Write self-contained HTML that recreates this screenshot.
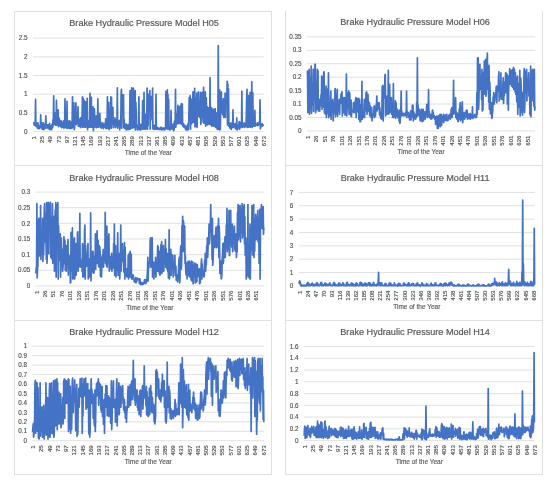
<!DOCTYPE html>
<html><head><meta charset="utf-8"><style>
html,body{margin:0;padding:0;background:#fff;width:550px;height:482px;overflow:hidden}
svg{display:block;font-family:'Liberation Sans', sans-serif;filter:blur(0.35px)}
</style></head><body>
<svg width="550" height="482" viewBox="0 0 550 482">
<rect width="550" height="482" fill="#fff"/>
<line x1="14" x2="272" y1="11.5" y2="11.5" stroke="#e0e0e0"/>
<line x1="14" x2="272" y1="165.5" y2="165.5" stroke="#e0e0e0"/>
<line x1="14.5" x2="14.5" y1="11" y2="166" stroke="#e0e0e0"/>
<line x1="271.5" x2="271.5" y1="11" y2="166" stroke="#e0e0e0"/>
<text x="144.1" y="26.1" font-size="9.1" text-anchor="middle" fill="#595959" stroke="#595959" stroke-width="0.2">Brake Hydraulic Pressure Model H05</text>
<line x1="33.0" x2="263.6" y1="131.60" y2="131.60" stroke="#d9d9d9" stroke-width="0.8"/>
<text x="27.5" y="133.80" font-size="6.3" text-anchor="end" fill="#4a4a4a" stroke="#4a4a4a" stroke-width="0.12">0</text>
<line x1="33.0" x2="263.6" y1="112.90" y2="112.90" stroke="#d9d9d9" stroke-width="0.8"/>
<text x="27.5" y="115.10" font-size="6.3" text-anchor="end" fill="#4a4a4a" stroke="#4a4a4a" stroke-width="0.12">0.5</text>
<line x1="33.0" x2="263.6" y1="94.20" y2="94.20" stroke="#d9d9d9" stroke-width="0.8"/>
<text x="27.5" y="96.40" font-size="6.3" text-anchor="end" fill="#4a4a4a" stroke="#4a4a4a" stroke-width="0.12">1</text>
<line x1="33.0" x2="263.6" y1="75.50" y2="75.50" stroke="#d9d9d9" stroke-width="0.8"/>
<text x="27.5" y="77.70" font-size="6.3" text-anchor="end" fill="#4a4a4a" stroke="#4a4a4a" stroke-width="0.12">1.5</text>
<line x1="33.0" x2="263.6" y1="56.80" y2="56.80" stroke="#d9d9d9" stroke-width="0.8"/>
<text x="27.5" y="59.00" font-size="6.3" text-anchor="end" fill="#4a4a4a" stroke="#4a4a4a" stroke-width="0.12">2</text>
<line x1="33.0" x2="263.6" y1="38.10" y2="38.10" stroke="#d9d9d9" stroke-width="0.8"/>
<text x="27.5" y="40.30" font-size="6.3" text-anchor="end" fill="#4a4a4a" stroke="#4a4a4a" stroke-width="0.12">2.5</text>
<text transform="translate(35.87,136.20) rotate(-90)" font-size="6.1" text-anchor="end" fill="#4a4a4a" stroke="#4a4a4a" stroke-width="0.12">1</text>
<text transform="translate(44.08,136.20) rotate(-90)" font-size="6.1" text-anchor="end" fill="#4a4a4a" stroke="#4a4a4a" stroke-width="0.12">25</text>
<text transform="translate(52.29,136.20) rotate(-90)" font-size="6.1" text-anchor="end" fill="#4a4a4a" stroke="#4a4a4a" stroke-width="0.12">49</text>
<text transform="translate(60.50,136.20) rotate(-90)" font-size="6.1" text-anchor="end" fill="#4a4a4a" stroke="#4a4a4a" stroke-width="0.12">73</text>
<text transform="translate(68.72,136.20) rotate(-90)" font-size="6.1" text-anchor="end" fill="#4a4a4a" stroke="#4a4a4a" stroke-width="0.12">97</text>
<text transform="translate(76.93,136.20) rotate(-90)" font-size="6.1" text-anchor="end" fill="#4a4a4a" stroke="#4a4a4a" stroke-width="0.12">121</text>
<text transform="translate(85.14,136.20) rotate(-90)" font-size="6.1" text-anchor="end" fill="#4a4a4a" stroke="#4a4a4a" stroke-width="0.12">145</text>
<text transform="translate(93.35,136.20) rotate(-90)" font-size="6.1" text-anchor="end" fill="#4a4a4a" stroke="#4a4a4a" stroke-width="0.12">169</text>
<text transform="translate(101.56,136.20) rotate(-90)" font-size="6.1" text-anchor="end" fill="#4a4a4a" stroke="#4a4a4a" stroke-width="0.12">193</text>
<text transform="translate(109.77,136.20) rotate(-90)" font-size="6.1" text-anchor="end" fill="#4a4a4a" stroke="#4a4a4a" stroke-width="0.12">217</text>
<text transform="translate(117.98,136.20) rotate(-90)" font-size="6.1" text-anchor="end" fill="#4a4a4a" stroke="#4a4a4a" stroke-width="0.12">241</text>
<text transform="translate(126.20,136.20) rotate(-90)" font-size="6.1" text-anchor="end" fill="#4a4a4a" stroke="#4a4a4a" stroke-width="0.12">265</text>
<text transform="translate(134.41,136.20) rotate(-90)" font-size="6.1" text-anchor="end" fill="#4a4a4a" stroke="#4a4a4a" stroke-width="0.12">289</text>
<text transform="translate(142.62,136.20) rotate(-90)" font-size="6.1" text-anchor="end" fill="#4a4a4a" stroke="#4a4a4a" stroke-width="0.12">313</text>
<text transform="translate(150.83,136.20) rotate(-90)" font-size="6.1" text-anchor="end" fill="#4a4a4a" stroke="#4a4a4a" stroke-width="0.12">337</text>
<text transform="translate(159.04,136.20) rotate(-90)" font-size="6.1" text-anchor="end" fill="#4a4a4a" stroke="#4a4a4a" stroke-width="0.12">361</text>
<text transform="translate(167.25,136.20) rotate(-90)" font-size="6.1" text-anchor="end" fill="#4a4a4a" stroke="#4a4a4a" stroke-width="0.12">385</text>
<text transform="translate(175.46,136.20) rotate(-90)" font-size="6.1" text-anchor="end" fill="#4a4a4a" stroke="#4a4a4a" stroke-width="0.12">409</text>
<text transform="translate(183.67,136.20) rotate(-90)" font-size="6.1" text-anchor="end" fill="#4a4a4a" stroke="#4a4a4a" stroke-width="0.12">433</text>
<text transform="translate(191.89,136.20) rotate(-90)" font-size="6.1" text-anchor="end" fill="#4a4a4a" stroke="#4a4a4a" stroke-width="0.12">457</text>
<text transform="translate(200.10,136.20) rotate(-90)" font-size="6.1" text-anchor="end" fill="#4a4a4a" stroke="#4a4a4a" stroke-width="0.12">481</text>
<text transform="translate(208.31,136.20) rotate(-90)" font-size="6.1" text-anchor="end" fill="#4a4a4a" stroke="#4a4a4a" stroke-width="0.12">505</text>
<text transform="translate(216.52,136.20) rotate(-90)" font-size="6.1" text-anchor="end" fill="#4a4a4a" stroke="#4a4a4a" stroke-width="0.12">529</text>
<text transform="translate(224.73,136.20) rotate(-90)" font-size="6.1" text-anchor="end" fill="#4a4a4a" stroke="#4a4a4a" stroke-width="0.12">553</text>
<text transform="translate(232.94,136.20) rotate(-90)" font-size="6.1" text-anchor="end" fill="#4a4a4a" stroke="#4a4a4a" stroke-width="0.12">577</text>
<text transform="translate(241.15,136.20) rotate(-90)" font-size="6.1" text-anchor="end" fill="#4a4a4a" stroke="#4a4a4a" stroke-width="0.12">601</text>
<text transform="translate(249.36,136.20) rotate(-90)" font-size="6.1" text-anchor="end" fill="#4a4a4a" stroke="#4a4a4a" stroke-width="0.12">625</text>
<text transform="translate(257.58,136.20) rotate(-90)" font-size="6.1" text-anchor="end" fill="#4a4a4a" stroke="#4a4a4a" stroke-width="0.12">649</text>
<text transform="translate(265.79,136.20) rotate(-90)" font-size="6.1" text-anchor="end" fill="#4a4a4a" stroke="#4a4a4a" stroke-width="0.12">673</text>
<text x="148.30" y="155.0" font-size="6.5" text-anchor="middle" fill="#595959" stroke="#595959" stroke-width="0.15">Time of the Year</text>
<polyline fill="none" stroke="#4472c4" stroke-width="1.7" stroke-linejoin="round" points="33.17,123.16 33.51,123.20 33.86,122.85 34.20,125.15 34.54,124.61 34.88,124.56 35.22,122.84 35.57,99.45 35.91,126.15 36.25,123.15 36.59,126.63 36.93,124.08 37.28,123.39 37.62,128.49 37.96,122.85 38.30,128.65 38.65,127.70 38.99,126.14 39.33,127.27 39.67,128.64 40.01,125.78 40.36,124.93 40.70,114.85 41.04,127.15 41.38,126.45 41.72,123.22 42.07,128.98 42.41,129.44 42.75,123.02 43.09,125.97 43.44,122.85 43.78,129.65 44.12,129.24 44.46,127.06 44.80,124.32 45.15,126.78 45.49,128.06 45.83,115.85 46.17,128.15 46.51,127.47 46.86,126.11 47.20,126.53 47.54,124.82 47.88,128.20 48.23,124.73 48.57,126.75 48.91,125.18 49.25,129.51 49.59,123.35 49.94,129.65 50.28,128.63 50.62,126.14 50.96,127.40 51.30,128.48 51.65,129.60 51.99,124.23 52.33,124.11 52.67,127.55 53.01,119.46 53.36,119.53 53.70,95.85 54.04,124.65 54.38,117.91 54.73,121.61 55.07,122.60 55.41,112.85 55.75,125.15 56.09,120.99 56.44,100.35 56.78,125.15 57.12,121.55 57.46,119.72 57.80,111.82 58.15,109.85 58.49,126.65 58.83,124.07 59.17,118.16 59.52,119.75 59.86,121.08 60.20,126.00 60.54,126.27 60.88,124.83 61.23,120.85 61.57,127.65 61.91,122.03 62.25,123.92 62.59,125.63 62.94,123.06 63.28,127.47 63.62,120.85 63.96,128.15 64.31,127.35 64.65,123.55 64.99,98.85 65.33,127.15 65.67,126.15 66.02,117.85 66.36,128.15 66.70,124.66 67.04,101.35 67.38,128.15 67.73,125.52 68.07,124.83 68.41,121.08 68.75,128.31 69.10,126.34 69.44,120.98 69.78,120.85 70.12,128.65 70.46,125.48 70.81,125.58 71.15,122.18 71.49,124.73 71.83,128.51 72.17,121.31 72.52,96.85 72.86,127.15 73.20,126.03 73.54,123.89 73.89,102.85 74.23,129.65 74.57,128.09 74.91,113.45 75.25,123.61 75.60,112.05 75.94,102.85 76.28,124.65 76.62,112.86 76.96,118.78 77.31,123.51 77.65,121.53 77.99,106.85 78.33,126.15 78.68,126.12 79.02,125.53 79.36,119.61 79.70,126.53 80.04,120.39 80.39,117.85 80.73,127.65 81.07,125.78 81.41,122.57 81.75,123.35 82.10,114.24 82.44,96.85 82.78,127.15 83.12,98.55 83.47,121.32 83.81,123.33 84.15,100.35 84.49,127.15 84.83,125.81 85.18,123.96 85.52,101.85 85.86,127.15 86.20,124.08 86.54,126.86 86.89,126.94 87.23,98.35 87.57,129.65 87.91,125.44 88.26,126.17 88.60,120.85 88.94,127.15 89.28,126.19 89.62,123.28 89.97,93.35 90.31,127.15 90.65,126.91 90.99,125.44 91.33,97.35 91.68,127.15 92.02,125.83 92.36,127.17 92.70,125.53 93.04,106.85 93.39,130.65 93.73,125.90 94.07,123.50 94.41,108.85 94.76,127.15 95.10,123.41 95.44,118.86 95.78,117.72 96.12,115.85 96.47,127.65 96.81,123.79 97.15,126.56 97.49,127.03 97.83,98.85 98.18,127.15 98.52,127.05 98.86,121.80 99.20,116.79 99.55,125.64 99.89,113.35 100.23,127.15 100.57,121.97 100.91,122.40 101.26,128.25 101.60,123.78 101.94,125.59 102.28,123.83 102.62,127.07 102.97,122.85 103.31,128.65 103.65,126.98 103.99,126.01 104.34,124.72 104.68,125.90 105.02,122.99 105.36,127.70 105.70,118.85 106.05,128.65 106.39,127.62 106.73,126.68 107.07,127.30 107.41,96.85 107.76,128.15 108.10,121.11 108.44,126.17 108.78,102.35 109.13,129.65 109.47,128.22 109.81,109.19 110.15,122.42 110.49,127.50 110.84,96.85 111.18,128.15 111.52,97.41 111.86,123.57 112.20,121.94 112.55,124.40 112.89,107.35 113.23,127.65 113.57,121.65 113.92,121.00 114.26,123.19 114.60,125.49 114.94,117.85 115.28,127.65 115.63,127.41 115.97,119.83 116.31,122.91 116.65,125.90 116.99,121.62 117.34,87.85 117.68,128.15 118.02,124.17 118.36,124.42 118.71,123.43 119.05,123.89 119.39,120.35 119.73,129.95 120.07,120.91 120.42,127.08 120.76,126.90 121.10,94.18 121.44,89.35 121.78,128.15 122.13,101.24 122.47,94.84 122.81,105.03 123.15,96.84 123.50,94.85 123.84,127.65 124.18,119.25 124.52,126.56 124.86,128.49 125.21,124.20 125.55,124.85 125.89,124.15 126.23,129.95 126.57,124.37 126.92,125.20 127.26,129.73 127.60,127.59 127.94,128.83 128.29,124.85 128.63,129.65 128.97,129.02 129.31,124.98 129.65,122.36 130.00,90.55 130.34,129.15 130.68,124.24 131.02,103.08 131.36,114.17 131.71,87.85 132.05,128.15 132.39,96.14 132.73,114.75 133.07,110.51 133.42,88.05 133.76,127.65 134.10,95.74 134.44,94.66 134.79,103.71 135.13,90.55 135.47,129.95 135.81,102.22 136.15,110.26 136.50,126.91 136.84,126.03 137.18,125.45 137.52,129.95 137.86,129.50 138.21,129.00 138.55,127.53 138.89,96.85 139.23,129.15 139.58,126.50 139.92,129.88 140.26,125.57 140.60,124.35 140.94,129.95 141.29,126.25 141.63,128.76 141.97,124.33 142.31,123.16 142.65,100.55 143.00,129.15 143.34,122.48 143.68,126.00 144.02,92.45 144.37,129.15 144.71,121.05 145.05,126.59 145.39,114.25 145.73,129.15 146.08,127.35 146.42,128.55 146.76,119.51 147.10,88.05 147.44,129.15 147.79,117.87 148.13,125.88 148.47,97.10 148.81,93.99 149.16,98.77 149.50,99.85 149.84,90.55 150.18,129.15 150.52,113.72 150.87,96.68 151.21,104.76 151.55,116.01 151.89,101.79 152.23,119.85 152.58,88.05 152.92,128.65 153.26,126.99 153.60,129.17 153.95,125.89 154.29,125.45 154.63,129.35 154.97,125.98 155.31,127.20 155.66,128.24 156.00,94.25 156.34,129.15 156.68,128.81 157.02,127.45 157.37,127.61 157.71,129.38 158.05,127.71 158.39,128.17 158.74,128.29 159.08,129.36 159.42,128.93 159.76,128.79 160.10,129.35 160.45,127.47 160.79,129.23 161.13,127.25 161.47,129.95 161.81,129.66 162.16,128.43 162.50,129.75 162.84,128.71 163.18,128.00 163.53,127.83 163.87,129.48 164.21,129.92 164.55,129.06 164.89,129.70 165.24,127.56 165.58,127.56 165.92,91.42 166.26,119.73 166.60,128.68 166.95,112.60 167.29,89.85 167.63,129.15 167.97,94.39 168.31,122.57 168.66,99.34 169.00,129.11 169.34,129.61 169.68,126.65 170.03,129.95 170.37,129.66 170.71,127.38 171.05,110.45 171.39,129.15 171.74,124.61 172.08,124.73 172.42,126.03 172.76,128.93 173.10,124.15 173.45,130.55 173.79,127.20 174.13,129.91 174.47,120.99 174.82,126.78 175.16,127.05 175.50,89.35 175.84,127.15 176.18,117.86 176.53,124.36 176.87,121.51 177.21,113.68 177.55,118.02 177.89,105.45 178.24,123.75 178.58,106.60 178.92,122.28 179.26,107.26 179.61,106.75 179.95,123.75 180.29,123.24 180.63,105.96 180.97,119.90 181.32,103.65 181.66,124.35 182.00,116.44 182.34,104.06 182.68,125.66 183.03,126.42 183.37,125.27 183.71,124.15 184.05,127.45 184.40,125.00 184.74,125.66 185.08,127.25 185.42,128.99 185.76,126.05 186.11,129.95 186.45,126.37 186.79,128.85 187.13,129.85 187.47,127.35 187.82,124.15 188.16,129.95 188.50,127.93 188.84,117.17 189.19,97.54 189.53,108.67 189.87,118.84 190.21,95.55 190.55,129.15 190.90,106.55 191.24,118.51 191.58,124.01 191.92,99.13 192.26,101.12 192.61,112.22 192.95,91.85 193.29,122.45 193.63,108.50 193.98,110.64 194.32,103.91 194.66,88.35 195.00,126.85 195.34,97.79 195.69,126.07 196.03,101.44 196.37,124.96 196.71,93.05 197.05,127.45 197.40,112.01 197.74,93.57 198.08,114.32 198.42,91.85 198.77,116.15 199.11,107.29 199.45,109.08 199.79,117.72 200.13,108.61 200.48,92.45 200.82,124.35 201.16,119.97 201.50,96.30 201.84,104.91 202.19,92.45 202.53,117.45 202.87,112.32 203.21,122.46 203.56,87.35 203.90,123.15 204.24,114.65 204.58,97.79 204.92,99.53 205.27,91.85 205.61,126.15 205.95,125.63 206.29,97.97 206.63,112.57 206.98,123.00 207.32,106.75 207.66,124.95 208.00,116.11 208.34,120.56 208.69,107.85 209.03,124.35 209.37,123.14 209.71,113.76 210.06,77.65 210.40,124.15 210.74,122.50 211.08,121.98 211.42,126.00 211.77,107.85 212.11,126.15 212.45,124.70 212.79,124.51 213.13,112.56 213.48,109.25 213.82,126.15 214.16,124.58 214.50,124.46 214.85,113.42 215.19,108.65 215.53,127.45 215.87,121.61 216.21,124.10 216.56,127.57 216.90,112.85 217.24,129.35 217.58,125.85 217.92,114.21 218.27,45.55 218.61,129.15 218.95,115.19 219.29,127.42 219.64,89.85 219.98,129.95 220.32,129.30 220.66,111.79 221.00,95.82 221.35,91.85 221.69,112.55 222.03,103.22 222.37,101.34 222.71,114.65 223.06,108.93 223.40,98.65 223.74,117.45 224.08,106.09 224.43,101.31 224.77,111.16 225.11,93.05 225.45,117.45 225.79,93.65 226.14,101.68 226.48,99.46 226.82,100.01 227.16,81.25 227.50,124.95 227.85,83.97 228.19,122.82 228.53,88.65 228.87,126.15 229.22,124.85 229.56,123.66 229.90,127.67 230.24,128.24 230.58,126.76 230.93,122.85 231.27,129.35 231.61,125.46 231.95,125.37 232.29,124.37 232.64,127.42 232.98,109.85 233.32,127.45 233.66,125.12 234.01,126.10 234.35,126.86 234.69,126.41 235.03,123.55 235.37,128.65 235.72,127.05 236.06,124.92 236.40,129.23 236.74,117.95 237.08,129.95 237.43,128.46 237.77,125.34 238.11,127.62 238.45,124.82 238.80,125.03 239.14,121.65 239.48,129.35 239.82,128.63 240.16,122.28 240.51,123.77 240.85,124.37 241.19,127.01 241.53,126.80 241.87,91.15 242.22,127.45 242.56,122.81 242.90,126.89 243.24,126.72 243.59,126.37 243.93,123.39 244.27,122.85 244.61,127.45 244.95,124.28 245.30,124.26 245.64,126.76 245.98,125.74 246.32,116.07 246.66,99.39 247.01,89.35 247.35,127.45 247.69,112.00 248.03,120.39 248.37,95.55 248.72,127.15 249.06,120.07 249.40,118.82 249.74,122.19 250.09,92.45 250.43,127.15 250.77,125.62 251.11,93.28 251.45,117.53 251.80,81.85 252.14,127.45 252.48,107.82 252.82,92.90 253.16,126.12 253.51,124.15 253.85,126.15 254.19,125.81 254.53,123.34 254.88,110.45 255.22,126.15 255.56,124.78 255.90,124.24 256.24,125.11 256.59,124.82 256.93,125.44 257.27,122.85 257.61,125.55 257.95,125.50 258.30,123.37 258.64,124.55 258.98,124.83 259.32,122.08 259.67,121.74 260.01,99.85 260.35,128.65 260.69,127.65 261.03,124.13 261.38,125.74 261.72,124.43 262.06,123.55 262.40,126.15 262.74,125.37 263.09,124.99 263.43,125.95"/>
<line x1="285" x2="543" y1="165.5" y2="165.5" stroke="#e0e0e0"/>
<line x1="285.5" x2="285.5" y1="11" y2="166" stroke="#e0e0e0"/>
<line x1="542.5" x2="542.5" y1="11" y2="166" stroke="#e0e0e0"/>
<text x="415.1" y="25.1" font-size="9.1" text-anchor="middle" fill="#595959" stroke="#595959" stroke-width="0.2">Brake Hydraulic Pressure Model H06</text>
<line x1="307.0" x2="535.2" y1="130.90" y2="130.90" stroke="#d9d9d9" stroke-width="0.8"/>
<text x="301.5" y="133.10" font-size="6.3" text-anchor="end" fill="#4a4a4a" stroke="#4a4a4a" stroke-width="0.12">0</text>
<line x1="307.0" x2="535.2" y1="117.46" y2="117.46" stroke="#d9d9d9" stroke-width="0.8"/>
<text x="301.5" y="119.66" font-size="6.3" text-anchor="end" fill="#4a4a4a" stroke="#4a4a4a" stroke-width="0.12">0.05</text>
<line x1="307.0" x2="535.2" y1="104.03" y2="104.03" stroke="#d9d9d9" stroke-width="0.8"/>
<text x="301.5" y="106.23" font-size="6.3" text-anchor="end" fill="#4a4a4a" stroke="#4a4a4a" stroke-width="0.12">0.1</text>
<line x1="307.0" x2="535.2" y1="90.59" y2="90.59" stroke="#d9d9d9" stroke-width="0.8"/>
<text x="301.5" y="92.79" font-size="6.3" text-anchor="end" fill="#4a4a4a" stroke="#4a4a4a" stroke-width="0.12">0.15</text>
<line x1="307.0" x2="535.2" y1="77.16" y2="77.16" stroke="#d9d9d9" stroke-width="0.8"/>
<text x="301.5" y="79.36" font-size="6.3" text-anchor="end" fill="#4a4a4a" stroke="#4a4a4a" stroke-width="0.12">0.2</text>
<line x1="307.0" x2="535.2" y1="63.72" y2="63.72" stroke="#d9d9d9" stroke-width="0.8"/>
<text x="301.5" y="65.92" font-size="6.3" text-anchor="end" fill="#4a4a4a" stroke="#4a4a4a" stroke-width="0.12">0.25</text>
<line x1="307.0" x2="535.2" y1="50.29" y2="50.29" stroke="#d9d9d9" stroke-width="0.8"/>
<text x="301.5" y="52.49" font-size="6.3" text-anchor="end" fill="#4a4a4a" stroke="#4a4a4a" stroke-width="0.12">0.3</text>
<line x1="307.0" x2="535.2" y1="36.85" y2="36.85" stroke="#d9d9d9" stroke-width="0.8"/>
<text x="301.5" y="39.05" font-size="6.3" text-anchor="end" fill="#4a4a4a" stroke="#4a4a4a" stroke-width="0.12">0.35</text>
<text transform="translate(309.87,135.50) rotate(-90)" font-size="6.1" text-anchor="end" fill="#4a4a4a" stroke="#4a4a4a" stroke-width="0.12">1</text>
<text transform="translate(318.32,135.50) rotate(-90)" font-size="6.1" text-anchor="end" fill="#4a4a4a" stroke="#4a4a4a" stroke-width="0.12">26</text>
<text transform="translate(326.77,135.50) rotate(-90)" font-size="6.1" text-anchor="end" fill="#4a4a4a" stroke="#4a4a4a" stroke-width="0.12">51</text>
<text transform="translate(335.22,135.50) rotate(-90)" font-size="6.1" text-anchor="end" fill="#4a4a4a" stroke="#4a4a4a" stroke-width="0.12">76</text>
<text transform="translate(343.68,135.50) rotate(-90)" font-size="6.1" text-anchor="end" fill="#4a4a4a" stroke="#4a4a4a" stroke-width="0.12">101</text>
<text transform="translate(352.13,135.50) rotate(-90)" font-size="6.1" text-anchor="end" fill="#4a4a4a" stroke="#4a4a4a" stroke-width="0.12">126</text>
<text transform="translate(360.58,135.50) rotate(-90)" font-size="6.1" text-anchor="end" fill="#4a4a4a" stroke="#4a4a4a" stroke-width="0.12">151</text>
<text transform="translate(369.03,135.50) rotate(-90)" font-size="6.1" text-anchor="end" fill="#4a4a4a" stroke="#4a4a4a" stroke-width="0.12">176</text>
<text transform="translate(377.48,135.50) rotate(-90)" font-size="6.1" text-anchor="end" fill="#4a4a4a" stroke="#4a4a4a" stroke-width="0.12">201</text>
<text transform="translate(385.94,135.50) rotate(-90)" font-size="6.1" text-anchor="end" fill="#4a4a4a" stroke="#4a4a4a" stroke-width="0.12">226</text>
<text transform="translate(394.39,135.50) rotate(-90)" font-size="6.1" text-anchor="end" fill="#4a4a4a" stroke="#4a4a4a" stroke-width="0.12">251</text>
<text transform="translate(402.84,135.50) rotate(-90)" font-size="6.1" text-anchor="end" fill="#4a4a4a" stroke="#4a4a4a" stroke-width="0.12">276</text>
<text transform="translate(411.29,135.50) rotate(-90)" font-size="6.1" text-anchor="end" fill="#4a4a4a" stroke="#4a4a4a" stroke-width="0.12">301</text>
<text transform="translate(419.74,135.50) rotate(-90)" font-size="6.1" text-anchor="end" fill="#4a4a4a" stroke="#4a4a4a" stroke-width="0.12">326</text>
<text transform="translate(428.19,135.50) rotate(-90)" font-size="6.1" text-anchor="end" fill="#4a4a4a" stroke="#4a4a4a" stroke-width="0.12">351</text>
<text transform="translate(436.65,135.50) rotate(-90)" font-size="6.1" text-anchor="end" fill="#4a4a4a" stroke="#4a4a4a" stroke-width="0.12">376</text>
<text transform="translate(445.10,135.50) rotate(-90)" font-size="6.1" text-anchor="end" fill="#4a4a4a" stroke="#4a4a4a" stroke-width="0.12">401</text>
<text transform="translate(453.55,135.50) rotate(-90)" font-size="6.1" text-anchor="end" fill="#4a4a4a" stroke="#4a4a4a" stroke-width="0.12">426</text>
<text transform="translate(462.00,135.50) rotate(-90)" font-size="6.1" text-anchor="end" fill="#4a4a4a" stroke="#4a4a4a" stroke-width="0.12">451</text>
<text transform="translate(470.45,135.50) rotate(-90)" font-size="6.1" text-anchor="end" fill="#4a4a4a" stroke="#4a4a4a" stroke-width="0.12">476</text>
<text transform="translate(478.91,135.50) rotate(-90)" font-size="6.1" text-anchor="end" fill="#4a4a4a" stroke="#4a4a4a" stroke-width="0.12">501</text>
<text transform="translate(487.36,135.50) rotate(-90)" font-size="6.1" text-anchor="end" fill="#4a4a4a" stroke="#4a4a4a" stroke-width="0.12">526</text>
<text transform="translate(495.81,135.50) rotate(-90)" font-size="6.1" text-anchor="end" fill="#4a4a4a" stroke="#4a4a4a" stroke-width="0.12">551</text>
<text transform="translate(504.26,135.50) rotate(-90)" font-size="6.1" text-anchor="end" fill="#4a4a4a" stroke="#4a4a4a" stroke-width="0.12">576</text>
<text transform="translate(512.71,135.50) rotate(-90)" font-size="6.1" text-anchor="end" fill="#4a4a4a" stroke="#4a4a4a" stroke-width="0.12">601</text>
<text transform="translate(521.17,135.50) rotate(-90)" font-size="6.1" text-anchor="end" fill="#4a4a4a" stroke="#4a4a4a" stroke-width="0.12">626</text>
<text transform="translate(529.62,135.50) rotate(-90)" font-size="6.1" text-anchor="end" fill="#4a4a4a" stroke="#4a4a4a" stroke-width="0.12">651</text>
<text x="421.10" y="154.0" font-size="6.5" text-anchor="middle" fill="#595959" stroke="#595959" stroke-width="0.15">Time of the Year</text>
<polyline fill="none" stroke="#4472c4" stroke-width="1.7" stroke-linejoin="round" points="307.17,72.97 307.51,71.15 307.85,112.55 308.18,110.39 308.52,71.98 308.86,110.36 309.20,69.45 309.54,114.15 309.87,106.80 310.21,78.61 310.55,97.76 310.89,98.81 311.23,66.15 311.56,113.35 311.90,94.75 312.24,84.71 312.58,93.69 312.92,104.55 313.25,69.45 313.59,111.15 313.93,87.41 314.27,93.56 314.61,99.22 314.94,64.40 315.28,64.15 315.62,112.65 315.96,110.20 316.30,86.26 316.64,87.11 316.97,98.50 317.31,69.45 317.65,109.15 317.99,70.88 318.33,110.83 318.66,104.84 319.00,107.39 319.34,99.35 319.68,111.15 320.02,103.83 320.35,100.63 320.69,105.55 321.03,94.60 321.37,101.33 321.71,76.05 322.04,109.15 322.38,76.84 322.72,98.39 323.06,107.09 323.40,92.72 323.73,72.00 324.07,71.95 324.41,112.65 324.75,99.40 325.09,105.25 325.43,114.20 325.76,92.45 326.10,86.05 326.44,117.55 326.78,109.18 327.12,88.99 327.45,109.01 327.79,108.70 328.13,113.59 328.47,72.75 328.81,117.55 329.14,106.56 329.48,106.78 329.82,115.74 330.16,112.24 330.50,99.05 330.83,91.05 331.17,119.15 331.51,104.02 331.85,104.25 332.19,109.89 332.52,100.97 332.86,99.35 333.20,120.85 333.54,110.12 333.88,102.97 334.21,106.77 334.55,113.45 334.89,91.38 335.23,88.55 335.57,116.75 335.91,101.55 336.24,100.74 336.58,114.01 336.92,96.75 337.26,89.35 337.60,116.15 337.93,102.39 338.27,110.87 338.61,104.16 338.95,103.80 339.29,99.35 339.62,114.15 339.96,101.81 340.30,100.71 340.64,103.32 340.98,93.98 341.31,99.28 341.65,92.87 341.99,91.85 342.33,115.85 342.67,108.80 343.00,103.75 343.34,97.65 343.68,112.55 344.02,106.66 344.36,103.72 344.70,97.65 345.03,115.05 345.37,107.88 345.71,112.59 346.05,113.68 346.39,74.05 346.72,115.85 347.06,110.50 347.40,106.09 347.74,99.75 348.08,92.79 348.41,95.20 348.75,91.05 349.09,114.15 349.43,107.82 349.77,93.18 350.10,113.57 350.44,112.51 350.78,115.77 351.12,100.15 351.46,116.75 351.79,110.99 352.13,112.22 352.47,110.31 352.81,111.32 353.15,111.50 353.49,102.65 353.82,112.55 354.16,107.82 354.50,104.10 354.84,112.68 355.18,101.84 355.51,100.03 355.85,97.65 356.19,117.55 356.53,106.07 356.87,103.28 357.20,98.28 357.54,111.65 357.88,102.01 358.22,105.22 358.56,98.45 358.89,119.15 359.23,100.17 359.57,99.39 359.91,121.54 360.25,104.35 360.58,121.65 360.92,118.50 361.26,118.95 361.60,116.73 361.94,81.35 362.28,119.15 362.61,111.46 362.95,117.67 363.29,114.21 363.63,111.94 363.97,110.53 364.30,99.35 364.64,117.55 364.98,100.14 365.32,99.53 365.66,110.77 365.99,92.66 366.33,106.47 366.67,91.85 367.01,114.15 367.35,105.57 367.68,97.59 368.02,94.37 368.36,111.40 368.70,103.06 369.04,109.93 369.37,102.65 369.71,115.85 370.05,112.76 370.39,106.08 370.73,108.94 371.07,117.62 371.40,109.47 371.74,107.65 372.08,120.85 372.42,116.96 372.76,114.61 373.09,114.93 373.43,113.62 373.77,113.88 374.11,105.95 374.45,117.55 374.78,107.13 375.12,112.36 375.46,116.10 375.80,109.05 376.14,104.77 376.47,105.10 376.81,96.05 377.15,110.95 377.49,103.72 377.83,108.81 378.16,103.15 378.50,105.86 378.84,107.53 379.18,102.65 379.52,115.05 379.85,107.85 380.19,114.83 380.53,116.28 380.87,118.24 381.21,112.65 381.55,119.15 381.88,113.02 382.22,86.44 382.56,115.11 382.90,85.25 383.24,120.85 383.57,88.66 383.91,98.24 384.25,86.05 384.59,95.49 384.93,75.13 385.26,74.45 385.60,115.85 385.94,113.12 386.28,109.65 386.62,96.05 386.95,114.15 387.29,113.10 387.63,109.27 387.97,111.40 388.31,70.25 388.64,114.15 388.98,107.66 389.32,108.15 389.66,84.35 390.00,112.55 390.34,106.91 390.67,109.36 391.01,109.92 391.35,97.65 391.69,114.15 392.03,104.63 392.36,105.47 392.70,117.51 393.04,117.25 393.38,83.55 393.72,117.55 394.05,114.08 394.39,116.61 394.73,113.54 395.07,114.16 395.41,100.95 395.74,118.35 396.08,102.69 396.42,116.04 396.76,111.17 397.10,115.75 397.43,109.25 397.77,117.55 398.11,113.57 398.45,113.70 398.79,111.82 399.13,121.23 399.46,110.15 399.80,123.35 400.14,122.65 400.48,110.23 400.82,109.88 401.15,91.05 401.49,115.85 401.83,111.33 402.17,114.49 402.51,114.62 402.84,114.84 403.18,115.73 403.52,113.45 403.86,115.85 404.20,114.45 404.53,114.59 404.87,113.88 405.21,115.62 405.55,112.23 405.89,115.12 406.22,114.11 406.56,91.05 406.90,117.55 407.24,111.45 407.58,113.51 407.92,114.07 408.25,112.73 408.59,112.65 408.93,117.55 409.27,114.47 409.61,119.88 409.94,117.19 410.28,119.13 410.62,110.95 410.96,120.05 411.30,113.73 411.63,112.40 411.97,117.07 412.31,105.40 412.65,113.76 412.99,105.15 413.32,120.85 413.66,111.60 414.00,113.22 414.34,118.13 414.68,117.13 415.01,118.79 415.35,114.25 415.69,119.15 416.03,115.64 416.37,117.32 416.71,102.29 417.04,114.74 417.38,57.85 417.72,115.85 418.06,104.90 418.40,113.06 418.73,114.22 419.07,113.79 419.41,115.48 419.75,109.25 420.09,120.85 420.42,117.99 420.76,116.27 421.10,110.76 421.44,120.14 421.78,109.25 422.11,121.65 422.45,110.25 422.79,111.11 423.13,109.25 423.47,120.85 423.80,114.41 424.14,118.85 424.48,114.02 424.82,111.75 425.16,119.15 425.49,111.93 425.83,114.27 426.17,114.61 426.51,108.00 426.85,104.35 427.19,117.55 427.52,110.92 427.86,114.33 428.20,113.65 428.54,89.65 428.88,116.75 429.21,111.34 429.55,117.83 429.89,116.83 430.23,116.81 430.57,114.25 430.90,119.15 431.24,118.93 431.58,115.21 431.92,118.82 432.26,111.36 432.59,110.15 432.93,117.55 433.27,112.35 433.61,116.61 433.95,117.54 434.28,115.85 434.62,119.15 434.96,116.71 435.30,117.74 435.64,124.34 435.98,116.87 436.31,123.17 436.65,118.13 436.99,115.85 437.33,128.35 437.67,117.05 438.00,123.90 438.34,128.32 438.68,116.07 439.02,121.48 439.36,115.08 439.69,125.58 440.03,114.25 440.37,126.65 440.71,125.35 441.05,114.39 441.38,122.29 441.72,125.06 442.06,116.71 442.40,120.63 442.74,119.82 443.07,116.90 443.41,114.25 443.75,122.55 444.09,117.89 444.43,118.20 444.77,115.18 445.10,118.06 445.44,120.52 445.78,115.86 446.12,114.88 446.46,117.44 446.79,114.25 447.13,120.85 447.47,118.97 447.81,119.15 448.15,120.16 448.48,117.81 448.82,115.70 449.16,116.23 449.50,114.27 449.84,114.25 450.17,119.15 450.51,118.09 450.85,116.34 451.19,109.08 451.53,113.18 451.86,107.65 452.20,117.55 452.54,107.94 452.88,109.11 453.22,106.68 453.56,80.25 453.89,114.15 454.23,112.62 454.57,109.83 454.91,107.25 455.25,109.49 455.58,97.65 455.92,117.55 456.26,111.79 456.60,113.97 456.94,119.23 457.27,117.78 457.61,113.45 457.95,121.65 458.29,121.34 458.63,118.94 458.96,119.56 459.30,108.87 459.64,116.51 459.98,105.34 460.32,102.65 460.65,120.85 460.99,106.74 461.33,109.54 461.67,109.98 462.01,119.10 462.35,101.85 462.68,122.55 463.02,119.00 463.36,115.02 463.70,112.73 464.04,116.13 464.37,112.65 464.71,119.15 465.05,117.28 465.39,113.41 465.73,116.88 466.06,111.81 466.40,110.30 466.74,110.66 467.08,110.15 467.42,119.15 467.75,116.72 468.09,113.69 468.43,118.30 468.77,118.49 469.11,118.58 469.44,118.10 469.78,114.78 470.12,113.45 470.46,119.15 470.80,114.59 471.13,114.91 471.47,116.79 471.81,117.80 472.15,116.04 472.49,106.85 472.83,118.35 473.16,117.95 473.50,116.27 473.84,116.12 474.18,115.09 474.52,115.68 474.85,114.25 475.19,117.55 475.53,115.79 475.87,116.87 476.21,117.44 476.54,117.31 476.88,92.65 477.22,114.15 477.56,57.91 477.90,84.20 478.23,57.75 478.57,109.15 478.91,100.78 479.25,80.64 479.59,70.36 479.92,64.25 480.26,89.15 480.60,76.33 480.94,82.81 481.28,83.21 481.62,99.82 481.95,69.25 482.29,110.95 482.63,90.22 482.97,109.80 483.31,72.58 483.64,86.03 483.98,88.42 484.32,61.15 484.66,94.15 485.00,85.91 485.33,88.91 485.67,59.25 486.01,96.15 486.35,92.42 486.69,77.42 487.02,60.72 487.36,53.05 487.70,89.15 488.04,84.24 488.38,71.34 488.71,102.05 489.05,65.45 489.39,109.15 489.73,82.13 490.07,88.84 490.41,113.72 490.74,102.81 491.08,109.60 491.42,102.65 491.76,118.35 492.10,117.83 492.43,112.60 492.77,111.10 493.11,97.05 493.45,99.06 493.79,92.65 494.12,104.15 494.46,102.66 494.80,100.60 495.14,96.82 495.48,94.62 495.81,94.99 496.15,87.47 496.49,86.05 496.83,102.65 497.17,87.32 497.50,88.97 497.84,91.10 498.18,90.69 498.52,77.87 498.86,71.95 499.20,100.95 499.53,90.90 499.87,89.55 500.21,94.94 500.55,96.70 500.89,72.75 501.22,99.15 501.56,89.47 501.90,88.82 502.24,89.82 502.58,99.62 502.91,82.94 503.25,77.75 503.59,103.45 503.93,93.91 504.27,95.53 504.60,88.02 504.94,81.86 505.28,88.03 505.62,72.75 505.96,92.65 506.29,78.27 506.63,73.59 506.97,74.98 507.31,103.88 507.65,97.16 507.99,76.05 508.32,110.05 508.66,88.45 509.00,83.10 509.34,84.05 509.68,68.65 510.01,84.35 510.35,82.55 510.69,72.90 511.03,79.12 511.37,70.25 511.70,86.15 512.04,74.89 512.38,69.74 512.72,87.45 513.06,79.56 513.39,67.45 513.73,89.15 514.07,81.33 514.41,68.98 514.75,79.73 515.08,92.02 515.42,72.75 515.76,94.15 516.10,77.84 516.44,90.09 516.77,101.90 517.11,99.91 517.45,76.05 517.79,114.15 518.13,89.62 518.47,83.86 518.80,105.22 519.14,107.12 519.48,86.99 519.82,70.25 520.16,115.85 520.49,88.50 520.83,78.30 521.17,85.86 521.51,112.42 521.85,94.32 522.18,92.65 522.52,115.15 522.86,103.96 523.20,99.63 523.54,110.30 523.87,79.95 524.21,68.65 524.55,112.55 524.89,101.62 525.23,74.39 525.56,71.48 525.90,93.19 526.24,70.11 526.58,69.45 526.92,100.95 527.26,78.64 527.59,81.34 527.93,88.31 528.27,87.43 528.61,72.75 528.95,95.95 529.28,81.92 529.62,91.90 529.96,114.61 530.30,98.84 530.64,66.15 530.97,116.75 531.31,90.27 531.65,72.80 531.99,75.32 532.33,70.69 532.66,69.45 533.00,100.95 533.34,73.45 533.68,100.07 534.02,106.49 534.35,69.45 534.69,110.05 535.03,106.40"/>
<line x1="14" x2="272" y1="165.5" y2="165.5" stroke="#e0e0e0"/>
<line x1="14" x2="272" y1="320.5" y2="320.5" stroke="#e0e0e0"/>
<line x1="14.5" x2="14.5" y1="165" y2="321" stroke="#e0e0e0"/>
<line x1="271.5" x2="271.5" y1="165" y2="321" stroke="#e0e0e0"/>
<text x="144.1" y="180.8" font-size="9.1" text-anchor="middle" fill="#595959" stroke="#595959" stroke-width="0.2">Brake Hydraulic Pressure Model H08</text>
<line x1="35.7" x2="264.0" y1="285.90" y2="285.90" stroke="#d9d9d9" stroke-width="0.8"/>
<text x="30.200000000000003" y="288.10" font-size="6.3" text-anchor="end" fill="#4a4a4a" stroke="#4a4a4a" stroke-width="0.12">0</text>
<line x1="35.7" x2="264.0" y1="270.27" y2="270.27" stroke="#d9d9d9" stroke-width="0.8"/>
<text x="30.200000000000003" y="272.47" font-size="6.3" text-anchor="end" fill="#4a4a4a" stroke="#4a4a4a" stroke-width="0.12">0.05</text>
<line x1="35.7" x2="264.0" y1="254.63" y2="254.63" stroke="#d9d9d9" stroke-width="0.8"/>
<text x="30.200000000000003" y="256.83" font-size="6.3" text-anchor="end" fill="#4a4a4a" stroke="#4a4a4a" stroke-width="0.12">0.1</text>
<line x1="35.7" x2="264.0" y1="239.00" y2="239.00" stroke="#d9d9d9" stroke-width="0.8"/>
<text x="30.200000000000003" y="241.20" font-size="6.3" text-anchor="end" fill="#4a4a4a" stroke="#4a4a4a" stroke-width="0.12">0.15</text>
<line x1="35.7" x2="264.0" y1="223.37" y2="223.37" stroke="#d9d9d9" stroke-width="0.8"/>
<text x="30.200000000000003" y="225.57" font-size="6.3" text-anchor="end" fill="#4a4a4a" stroke="#4a4a4a" stroke-width="0.12">0.2</text>
<line x1="35.7" x2="264.0" y1="207.73" y2="207.73" stroke="#d9d9d9" stroke-width="0.8"/>
<text x="30.200000000000003" y="209.93" font-size="6.3" text-anchor="end" fill="#4a4a4a" stroke="#4a4a4a" stroke-width="0.12">0.25</text>
<line x1="35.7" x2="264.0" y1="192.10" y2="192.10" stroke="#d9d9d9" stroke-width="0.8"/>
<text x="30.200000000000003" y="194.30" font-size="6.3" text-anchor="end" fill="#4a4a4a" stroke="#4a4a4a" stroke-width="0.12">0.3</text>
<text transform="translate(38.57,290.50) rotate(-90)" font-size="6.1" text-anchor="end" fill="#4a4a4a" stroke="#4a4a4a" stroke-width="0.12">1</text>
<text transform="translate(47.02,290.50) rotate(-90)" font-size="6.1" text-anchor="end" fill="#4a4a4a" stroke="#4a4a4a" stroke-width="0.12">26</text>
<text transform="translate(55.48,290.50) rotate(-90)" font-size="6.1" text-anchor="end" fill="#4a4a4a" stroke="#4a4a4a" stroke-width="0.12">51</text>
<text transform="translate(63.94,290.50) rotate(-90)" font-size="6.1" text-anchor="end" fill="#4a4a4a" stroke="#4a4a4a" stroke-width="0.12">76</text>
<text transform="translate(72.39,290.50) rotate(-90)" font-size="6.1" text-anchor="end" fill="#4a4a4a" stroke="#4a4a4a" stroke-width="0.12">101</text>
<text transform="translate(80.85,290.50) rotate(-90)" font-size="6.1" text-anchor="end" fill="#4a4a4a" stroke="#4a4a4a" stroke-width="0.12">126</text>
<text transform="translate(89.30,290.50) rotate(-90)" font-size="6.1" text-anchor="end" fill="#4a4a4a" stroke="#4a4a4a" stroke-width="0.12">151</text>
<text transform="translate(97.76,290.50) rotate(-90)" font-size="6.1" text-anchor="end" fill="#4a4a4a" stroke="#4a4a4a" stroke-width="0.12">176</text>
<text transform="translate(106.21,290.50) rotate(-90)" font-size="6.1" text-anchor="end" fill="#4a4a4a" stroke="#4a4a4a" stroke-width="0.12">201</text>
<text transform="translate(114.67,290.50) rotate(-90)" font-size="6.1" text-anchor="end" fill="#4a4a4a" stroke="#4a4a4a" stroke-width="0.12">226</text>
<text transform="translate(123.12,290.50) rotate(-90)" font-size="6.1" text-anchor="end" fill="#4a4a4a" stroke="#4a4a4a" stroke-width="0.12">251</text>
<text transform="translate(131.58,290.50) rotate(-90)" font-size="6.1" text-anchor="end" fill="#4a4a4a" stroke="#4a4a4a" stroke-width="0.12">276</text>
<text transform="translate(140.04,290.50) rotate(-90)" font-size="6.1" text-anchor="end" fill="#4a4a4a" stroke="#4a4a4a" stroke-width="0.12">301</text>
<text transform="translate(148.49,290.50) rotate(-90)" font-size="6.1" text-anchor="end" fill="#4a4a4a" stroke="#4a4a4a" stroke-width="0.12">326</text>
<text transform="translate(156.95,290.50) rotate(-90)" font-size="6.1" text-anchor="end" fill="#4a4a4a" stroke="#4a4a4a" stroke-width="0.12">351</text>
<text transform="translate(165.40,290.50) rotate(-90)" font-size="6.1" text-anchor="end" fill="#4a4a4a" stroke="#4a4a4a" stroke-width="0.12">376</text>
<text transform="translate(173.86,290.50) rotate(-90)" font-size="6.1" text-anchor="end" fill="#4a4a4a" stroke="#4a4a4a" stroke-width="0.12">401</text>
<text transform="translate(182.31,290.50) rotate(-90)" font-size="6.1" text-anchor="end" fill="#4a4a4a" stroke="#4a4a4a" stroke-width="0.12">426</text>
<text transform="translate(190.77,290.50) rotate(-90)" font-size="6.1" text-anchor="end" fill="#4a4a4a" stroke="#4a4a4a" stroke-width="0.12">451</text>
<text transform="translate(199.22,290.50) rotate(-90)" font-size="6.1" text-anchor="end" fill="#4a4a4a" stroke="#4a4a4a" stroke-width="0.12">476</text>
<text transform="translate(207.68,290.50) rotate(-90)" font-size="6.1" text-anchor="end" fill="#4a4a4a" stroke="#4a4a4a" stroke-width="0.12">501</text>
<text transform="translate(216.14,290.50) rotate(-90)" font-size="6.1" text-anchor="end" fill="#4a4a4a" stroke="#4a4a4a" stroke-width="0.12">526</text>
<text transform="translate(224.59,290.50) rotate(-90)" font-size="6.1" text-anchor="end" fill="#4a4a4a" stroke="#4a4a4a" stroke-width="0.12">551</text>
<text transform="translate(233.05,290.50) rotate(-90)" font-size="6.1" text-anchor="end" fill="#4a4a4a" stroke="#4a4a4a" stroke-width="0.12">576</text>
<text transform="translate(241.50,290.50) rotate(-90)" font-size="6.1" text-anchor="end" fill="#4a4a4a" stroke="#4a4a4a" stroke-width="0.12">601</text>
<text transform="translate(249.96,290.50) rotate(-90)" font-size="6.1" text-anchor="end" fill="#4a4a4a" stroke="#4a4a4a" stroke-width="0.12">626</text>
<text transform="translate(258.41,290.50) rotate(-90)" font-size="6.1" text-anchor="end" fill="#4a4a4a" stroke="#4a4a4a" stroke-width="0.12">651</text>
<text x="149.85" y="309.7" font-size="6.5" text-anchor="middle" fill="#595959" stroke="#595959" stroke-width="0.15">Time of the Year</text>
<polyline fill="none" stroke="#4472c4" stroke-width="1.7" stroke-linejoin="round" points="35.87,273.53 36.21,267.84 36.55,271.08 36.88,203.65 37.22,277.95 37.56,266.73 37.90,266.33 38.24,220.69 38.57,255.06 38.91,218.25 39.25,255.55 39.59,249.49 39.93,255.96 40.27,256.29 40.60,205.55 40.94,259.45 41.28,246.03 41.62,253.11 41.96,254.30 42.30,240.82 42.63,218.25 42.97,261.35 43.31,245.79 43.65,254.86 43.99,227.90 44.32,208.69 44.66,203.65 45.00,241.85 45.34,223.64 45.68,213.53 46.02,243.40 46.35,259.46 46.69,202.65 47.03,263.35 47.37,248.67 47.71,232.57 48.05,238.09 48.38,202.25 48.72,253.55 49.06,203.84 49.40,209.15 49.74,228.20 50.07,217.69 50.41,202.25 50.75,257.15 51.09,250.50 51.43,217.94 51.77,258.64 52.10,239.77 52.44,203.65 52.78,263.35 53.12,251.46 53.46,236.81 53.79,219.79 54.13,216.25 54.47,271.15 54.81,264.50 55.15,209.89 55.49,266.85 55.82,202.65 56.16,276.95 56.50,218.77 56.84,205.21 57.18,235.93 57.52,231.14 57.85,202.65 58.19,278.95 58.53,225.62 58.87,240.25 59.21,260.44 59.54,249.04 59.88,251.82 60.22,233.85 60.56,277.15 60.90,259.15 61.24,238.00 61.57,264.25 61.91,250.99 62.25,249.45 62.59,271.15 62.93,268.03 63.27,263.11 63.60,245.49 63.94,236.75 64.28,263.35 64.62,241.09 64.96,240.46 65.29,270.24 65.63,247.99 65.97,245.55 66.31,271.15 66.65,260.12 66.99,252.88 67.32,247.12 67.66,245.61 68.00,239.65 68.34,275.05 68.68,259.95 69.01,264.96 69.35,257.00 69.69,259.28 70.03,255.25 70.37,282.85 70.71,282.57 71.04,232.46 71.38,238.12 71.72,248.88 72.06,271.26 72.40,227.95 72.74,278.95 73.07,242.94 73.41,239.74 73.75,272.46 74.09,278.49 74.43,237.75 74.76,278.95 75.10,262.97 75.44,273.73 75.78,243.55 76.12,275.15 76.46,266.25 76.79,264.69 77.13,266.47 77.47,232.61 77.81,231.85 78.15,271.15 78.49,251.71 78.82,253.72 79.16,262.98 79.50,266.11 79.84,213.35 80.18,267.15 80.51,259.08 80.85,266.73 81.19,264.50 81.53,263.32 81.87,263.94 82.21,271.73 82.54,243.55 82.88,276.95 83.22,244.97 83.56,247.97 83.90,262.03 84.23,276.72 84.57,230.62 84.91,225.05 85.25,278.95 85.59,245.41 85.93,254.13 86.26,253.08 86.60,266.34 86.94,257.86 87.28,263.35 87.62,257.00 87.96,243.55 88.29,278.95 88.63,276.85 88.97,261.00 89.31,258.81 89.65,268.59 89.98,276.80 90.32,275.72 90.66,212.75 91.00,280.85 91.34,264.20 91.68,271.98 92.01,261.19 92.35,251.60 92.69,264.10 93.03,251.35 93.37,273.15 93.71,263.99 94.04,272.71 94.38,264.77 94.72,256.17 95.06,267.03 95.40,233.85 95.73,269.15 96.07,256.00 96.41,246.00 96.75,241.27 97.09,230.85 97.43,263.35 97.76,242.31 98.10,240.37 98.44,261.49 98.78,266.67 99.12,245.55 99.45,267.15 99.79,246.86 100.13,252.55 100.47,276.23 100.81,272.00 101.15,257.25 101.48,276.95 101.82,266.24 102.16,265.27 102.50,255.11 102.84,260.71 103.18,249.45 103.51,267.15 103.85,254.98 104.19,260.62 104.53,255.76 104.87,259.52 105.20,212.35 105.54,263.35 105.88,258.54 106.22,257.79 106.56,266.04 106.90,226.05 107.23,267.15 107.57,249.45 107.91,236.93 108.25,245.41 108.59,262.85 108.93,233.85 109.26,271.15 109.60,263.83 109.94,262.25 110.28,256.69 110.62,263.40 110.95,265.78 111.29,269.34 111.63,253.35 111.97,271.15 112.31,259.08 112.65,265.21 112.98,268.19 113.32,264.56 113.66,243.55 114.00,267.15 114.34,224.05 114.67,275.15 115.01,272.41 115.35,271.63 115.69,245.55 116.03,276.95 116.37,256.12 116.70,256.53 117.04,265.79 117.38,270.38 117.72,232.85 118.06,275.15 118.40,272.77 118.73,273.87 119.07,275.56 119.41,253.35 119.75,278.95 120.09,268.95 120.42,261.85 120.76,225.05 121.10,271.15 121.44,261.49 121.78,246.82 122.12,256.39 122.45,243.55 122.79,261.35 123.13,257.92 123.47,249.92 123.81,271.92 124.15,266.42 124.48,242.65 124.82,278.95 125.16,247.36 125.50,268.35 125.84,275.28 126.17,274.75 126.51,268.85 126.85,276.95 127.19,271.66 127.53,273.57 127.87,276.46 128.20,255.25 128.54,278.95 128.88,276.52 129.22,253.38 129.56,255.34 129.89,276.83 130.23,251.35 130.57,276.95 130.91,275.50 131.25,254.42 131.59,278.90 131.92,277.13 132.26,274.75 132.60,278.95 132.94,278.74 133.28,275.06 133.62,278.80 133.95,278.97 134.29,282.00 134.63,279.40 134.97,280.35 135.31,281.35 135.64,277.65 135.98,282.85 136.32,279.42 136.66,281.67 137.00,278.00 137.34,279.79 137.67,279.14 138.01,278.64 138.35,278.88 138.69,279.14 139.03,278.65 139.37,283.75 139.70,282.19 140.04,279.04 140.38,282.78 140.72,284.53 141.06,283.48 141.39,282.58 141.73,283.11 142.07,282.55 142.41,284.75 142.75,282.93 143.09,284.09 143.42,284.01 143.76,283.60 144.10,283.46 144.44,279.90 144.78,282.16 145.11,282.35 145.45,279.65 145.79,283.75 146.13,280.69 146.47,280.22 146.81,281.61 147.14,275.71 147.48,272.55 147.82,257.25 148.16,280.85 148.50,261.91 148.84,268.23 149.17,261.76 149.51,262.11 149.85,261.03 150.19,240.05 150.53,237.75 150.86,267.15 151.20,261.45 151.54,242.94 151.88,237.97 152.22,237.75 152.56,276.95 152.89,272.71 153.23,264.46 153.57,262.15 153.91,278.95 154.25,262.99 154.59,274.39 154.92,262.54 155.26,266.56 155.60,257.25 155.94,276.95 156.28,265.58 156.61,267.63 156.95,265.43 157.29,271.10 157.63,245.55 157.97,271.15 158.31,246.95 158.64,267.90 158.98,254.32 159.32,273.52 159.66,251.35 160.00,275.15 160.33,274.55 160.67,254.81 161.01,244.36 161.35,257.33 161.69,241.65 162.03,273.15 162.36,251.60 162.70,253.60 163.04,262.16 163.38,245.55 163.72,271.15 164.06,262.11 164.39,256.13 164.73,249.57 165.07,261.90 165.41,239.65 165.75,267.15 166.08,248.69 166.42,263.75 166.76,268.68 167.10,267.96 167.44,253.35 167.78,271.15 168.11,269.46 168.45,277.97 168.79,276.76 169.13,229.95 169.47,278.95 169.81,274.38 170.14,264.98 170.48,255.04 170.82,249.45 171.16,275.15 171.50,259.22 171.83,254.56 172.17,268.77 172.51,267.58 172.85,255.25 173.19,276.95 173.53,263.33 173.86,266.18 174.20,269.24 174.54,266.78 174.88,255.25 175.22,275.15 175.55,269.06 175.89,265.98 176.23,280.11 176.57,278.55 176.91,276.91 177.25,274.75 177.58,281.85 177.92,275.26 178.26,278.83 178.60,268.15 178.94,260.33 179.28,257.25 179.61,282.85 179.95,281.22 180.29,254.38 180.63,247.96 180.97,245.55 181.30,269.15 181.64,264.22 181.98,225.53 182.32,235.22 182.66,216.25 183.00,251.65 183.33,220.61 183.67,222.86 184.01,250.75 184.35,230.25 184.69,226.05 185.03,263.35 185.36,255.61 185.70,268.34 186.04,274.72 186.38,269.98 186.72,263.05 187.05,278.95 187.39,264.69 187.73,269.60 188.07,261.23 188.41,274.68 188.75,273.38 189.08,276.25 189.42,261.15 189.76,276.95 190.10,262.60 190.44,275.38 190.77,275.06 191.11,279.97 191.45,261.15 191.79,280.85 192.13,262.66 192.47,265.57 192.80,262.15 193.14,283.75 193.48,264.77 193.82,265.52 194.16,276.39 194.50,266.29 194.83,263.05 195.17,282.85 195.51,281.91 195.85,274.36 196.19,267.63 196.52,264.05 196.86,281.85 197.20,264.70 197.54,268.19 197.88,276.47 198.22,273.09 198.55,270.44 198.89,272.59 199.23,268.85 199.57,283.75 199.91,282.77 200.25,282.84 200.58,273.68 200.92,270.32 201.26,262.55 201.60,259.15 201.94,278.95 202.27,263.94 202.61,275.39 202.95,272.37 203.29,273.19 203.63,270.85 203.97,276.95 204.30,275.45 204.64,260.36 204.98,264.61 205.32,253.35 205.66,271.15 205.99,260.41 206.33,264.91 206.67,245.99 207.01,255.81 207.35,237.75 207.69,257.45 208.02,247.61 208.36,238.28 208.70,241.81 209.04,224.05 209.38,243.85 209.72,240.15 210.05,231.04 210.39,227.38 210.73,204.55 211.07,232.15 211.41,226.93 211.74,227.50 212.08,259.17 212.42,218.25 212.76,265.25 213.10,259.57 213.44,243.47 213.77,236.98 214.11,235.75 214.45,247.75 214.79,237.54 215.13,246.60 215.47,242.54 215.80,228.78 216.14,227.05 216.48,247.75 216.82,237.76 217.16,238.58 217.49,229.27 217.83,225.55 218.17,246.97 218.51,218.25 218.85,257.45 219.19,226.06 219.52,234.49 219.86,273.35 220.20,265.29 220.54,266.65 220.88,261.15 221.21,278.95 221.55,278.12 221.89,273.68 222.23,257.52 222.57,255.17 222.91,243.55 223.24,263.35 223.58,260.45 223.92,251.77 224.26,242.28 224.60,252.95 224.94,236.75 225.27,257.45 225.61,237.23 225.95,247.52 226.29,224.98 226.63,244.21 226.96,208.45 227.30,251.65 227.64,224.02 227.98,237.74 228.32,245.37 228.66,249.07 228.99,210.45 229.33,255.55 229.67,255.15 230.01,238.09 230.35,237.15 230.69,210.45 231.02,241.85 231.36,238.18 231.70,247.09 232.04,228.97 232.38,224.05 232.71,251.65 233.05,239.43 233.39,238.37 233.73,243.06 234.07,229.43 234.41,226.05 234.74,249.65 235.08,235.50 235.42,251.16 235.76,234.79 236.10,233.85 236.43,257.45 236.77,244.88 237.11,252.03 237.45,212.86 237.79,214.54 238.13,204.55 238.46,239.95 238.80,228.46 239.14,206.01 239.48,236.55 239.82,233.06 240.16,205.55 240.49,241.85 240.83,212.43 241.17,232.46 241.51,210.07 241.85,213.78 242.18,203.65 242.52,237.95 242.86,233.10 243.20,207.09 243.54,214.57 243.88,209.85 244.21,204.55 244.55,243.85 244.89,216.87 245.23,255.19 245.57,248.92 245.91,237.75 246.24,278.95 246.58,241.29 246.92,275.13 247.26,261.86 247.60,271.67 247.93,204.55 248.27,276.95 248.61,270.49 248.95,266.45 249.29,261.14 249.63,278.57 249.96,224.05 250.30,278.95 250.64,242.43 250.98,255.00 251.32,226.98 251.65,240.38 251.99,205.55 252.33,249.65 252.67,231.35 253.01,255.09 253.35,236.77 253.68,204.55 254.02,257.45 254.36,233.35 254.70,251.15 255.04,221.38 255.38,222.91 255.71,214.35 256.05,239.95 256.39,217.23 256.73,217.24 257.07,238.99 257.40,238.81 257.74,210.45 258.08,241.85 258.42,240.01 258.76,230.10 259.10,263.13 259.43,226.32 259.77,209.45 260.11,278.95 260.45,229.99 260.79,220.57 261.13,212.75 261.46,204.55 261.80,228.25 262.14,223.65 262.48,221.96 262.82,228.95 263.15,206.55 263.49,234.15 263.83,227.52"/>
<line x1="285" x2="543" y1="165.5" y2="165.5" stroke="#e0e0e0"/>
<line x1="285" x2="543" y1="320.5" y2="320.5" stroke="#e0e0e0"/>
<line x1="285.5" x2="285.5" y1="165" y2="321" stroke="#e0e0e0"/>
<line x1="542.5" x2="542.5" y1="165" y2="321" stroke="#e0e0e0"/>
<text x="415.1" y="180.60000000000002" font-size="9.1" text-anchor="middle" fill="#595959" stroke="#595959" stroke-width="0.2">Brake Hydraulic Pressure Model H11</text>
<line x1="298.8" x2="534.8" y1="285.90" y2="285.90" stroke="#d9d9d9" stroke-width="0.8"/>
<text x="293.3" y="288.10" font-size="6.3" text-anchor="end" fill="#4a4a4a" stroke="#4a4a4a" stroke-width="0.12">0</text>
<line x1="298.8" x2="534.8" y1="272.54" y2="272.54" stroke="#d9d9d9" stroke-width="0.8"/>
<text x="293.3" y="274.74" font-size="6.3" text-anchor="end" fill="#4a4a4a" stroke="#4a4a4a" stroke-width="0.12">1</text>
<line x1="298.8" x2="534.8" y1="259.19" y2="259.19" stroke="#d9d9d9" stroke-width="0.8"/>
<text x="293.3" y="261.39" font-size="6.3" text-anchor="end" fill="#4a4a4a" stroke="#4a4a4a" stroke-width="0.12">2</text>
<line x1="298.8" x2="534.8" y1="245.83" y2="245.83" stroke="#d9d9d9" stroke-width="0.8"/>
<text x="293.3" y="248.03" font-size="6.3" text-anchor="end" fill="#4a4a4a" stroke="#4a4a4a" stroke-width="0.12">3</text>
<line x1="298.8" x2="534.8" y1="232.47" y2="232.47" stroke="#d9d9d9" stroke-width="0.8"/>
<text x="293.3" y="234.67" font-size="6.3" text-anchor="end" fill="#4a4a4a" stroke="#4a4a4a" stroke-width="0.12">4</text>
<line x1="298.8" x2="534.8" y1="219.11" y2="219.11" stroke="#d9d9d9" stroke-width="0.8"/>
<text x="293.3" y="221.31" font-size="6.3" text-anchor="end" fill="#4a4a4a" stroke="#4a4a4a" stroke-width="0.12">5</text>
<line x1="298.8" x2="534.8" y1="205.76" y2="205.76" stroke="#d9d9d9" stroke-width="0.8"/>
<text x="293.3" y="207.96" font-size="6.3" text-anchor="end" fill="#4a4a4a" stroke="#4a4a4a" stroke-width="0.12">6</text>
<line x1="298.8" x2="534.8" y1="192.40" y2="192.40" stroke="#d9d9d9" stroke-width="0.8"/>
<text x="293.3" y="194.60" font-size="6.3" text-anchor="end" fill="#4a4a4a" stroke="#4a4a4a" stroke-width="0.12">7</text>
<text transform="translate(301.68,290.50) rotate(-90)" font-size="6.1" text-anchor="end" fill="#4a4a4a" stroke="#4a4a4a" stroke-width="0.12">1</text>
<text transform="translate(309.74,290.50) rotate(-90)" font-size="6.1" text-anchor="end" fill="#4a4a4a" stroke="#4a4a4a" stroke-width="0.12">24</text>
<text transform="translate(317.81,290.50) rotate(-90)" font-size="6.1" text-anchor="end" fill="#4a4a4a" stroke="#4a4a4a" stroke-width="0.12">47</text>
<text transform="translate(325.87,290.50) rotate(-90)" font-size="6.1" text-anchor="end" fill="#4a4a4a" stroke="#4a4a4a" stroke-width="0.12">70</text>
<text transform="translate(333.94,290.50) rotate(-90)" font-size="6.1" text-anchor="end" fill="#4a4a4a" stroke="#4a4a4a" stroke-width="0.12">93</text>
<text transform="translate(342.00,290.50) rotate(-90)" font-size="6.1" text-anchor="end" fill="#4a4a4a" stroke="#4a4a4a" stroke-width="0.12">116</text>
<text transform="translate(350.07,290.50) rotate(-90)" font-size="6.1" text-anchor="end" fill="#4a4a4a" stroke="#4a4a4a" stroke-width="0.12">139</text>
<text transform="translate(358.13,290.50) rotate(-90)" font-size="6.1" text-anchor="end" fill="#4a4a4a" stroke="#4a4a4a" stroke-width="0.12">162</text>
<text transform="translate(366.20,290.50) rotate(-90)" font-size="6.1" text-anchor="end" fill="#4a4a4a" stroke="#4a4a4a" stroke-width="0.12">185</text>
<text transform="translate(374.26,290.50) rotate(-90)" font-size="6.1" text-anchor="end" fill="#4a4a4a" stroke="#4a4a4a" stroke-width="0.12">208</text>
<text transform="translate(382.33,290.50) rotate(-90)" font-size="6.1" text-anchor="end" fill="#4a4a4a" stroke="#4a4a4a" stroke-width="0.12">231</text>
<text transform="translate(390.39,290.50) rotate(-90)" font-size="6.1" text-anchor="end" fill="#4a4a4a" stroke="#4a4a4a" stroke-width="0.12">254</text>
<text transform="translate(398.46,290.50) rotate(-90)" font-size="6.1" text-anchor="end" fill="#4a4a4a" stroke="#4a4a4a" stroke-width="0.12">277</text>
<text transform="translate(406.53,290.50) rotate(-90)" font-size="6.1" text-anchor="end" fill="#4a4a4a" stroke="#4a4a4a" stroke-width="0.12">300</text>
<text transform="translate(414.59,290.50) rotate(-90)" font-size="6.1" text-anchor="end" fill="#4a4a4a" stroke="#4a4a4a" stroke-width="0.12">323</text>
<text transform="translate(422.66,290.50) rotate(-90)" font-size="6.1" text-anchor="end" fill="#4a4a4a" stroke="#4a4a4a" stroke-width="0.12">346</text>
<text transform="translate(430.72,290.50) rotate(-90)" font-size="6.1" text-anchor="end" fill="#4a4a4a" stroke="#4a4a4a" stroke-width="0.12">369</text>
<text transform="translate(438.79,290.50) rotate(-90)" font-size="6.1" text-anchor="end" fill="#4a4a4a" stroke="#4a4a4a" stroke-width="0.12">392</text>
<text transform="translate(446.85,290.50) rotate(-90)" font-size="6.1" text-anchor="end" fill="#4a4a4a" stroke="#4a4a4a" stroke-width="0.12">415</text>
<text transform="translate(454.92,290.50) rotate(-90)" font-size="6.1" text-anchor="end" fill="#4a4a4a" stroke="#4a4a4a" stroke-width="0.12">438</text>
<text transform="translate(462.98,290.50) rotate(-90)" font-size="6.1" text-anchor="end" fill="#4a4a4a" stroke="#4a4a4a" stroke-width="0.12">461</text>
<text transform="translate(471.05,290.50) rotate(-90)" font-size="6.1" text-anchor="end" fill="#4a4a4a" stroke="#4a4a4a" stroke-width="0.12">484</text>
<text transform="translate(479.11,290.50) rotate(-90)" font-size="6.1" text-anchor="end" fill="#4a4a4a" stroke="#4a4a4a" stroke-width="0.12">507</text>
<text transform="translate(487.18,290.50) rotate(-90)" font-size="6.1" text-anchor="end" fill="#4a4a4a" stroke="#4a4a4a" stroke-width="0.12">530</text>
<text transform="translate(495.24,290.50) rotate(-90)" font-size="6.1" text-anchor="end" fill="#4a4a4a" stroke="#4a4a4a" stroke-width="0.12">553</text>
<text transform="translate(503.31,290.50) rotate(-90)" font-size="6.1" text-anchor="end" fill="#4a4a4a" stroke="#4a4a4a" stroke-width="0.12">576</text>
<text transform="translate(511.38,290.50) rotate(-90)" font-size="6.1" text-anchor="end" fill="#4a4a4a" stroke="#4a4a4a" stroke-width="0.12">599</text>
<text transform="translate(519.44,290.50) rotate(-90)" font-size="6.1" text-anchor="end" fill="#4a4a4a" stroke="#4a4a4a" stroke-width="0.12">622</text>
<text transform="translate(527.51,290.50) rotate(-90)" font-size="6.1" text-anchor="end" fill="#4a4a4a" stroke="#4a4a4a" stroke-width="0.12">645</text>
<text transform="translate(535.57,290.50) rotate(-90)" font-size="6.1" text-anchor="end" fill="#4a4a4a" stroke="#4a4a4a" stroke-width="0.12">668</text>
<text x="416.80" y="309.3" font-size="6.5" text-anchor="middle" fill="#595959" stroke="#595959" stroke-width="0.15">Time of the Year</text>
<polyline fill="none" stroke="#4472c4" stroke-width="1.7" stroke-linejoin="round" points="298.98,281.51 299.33,283.36 299.68,280.85 300.03,283.65 300.38,281.96 300.73,285.27 301.08,285.90 301.43,285.47 301.78,285.22 302.13,285.79 302.48,285.34 302.83,285.33 303.18,285.52 303.53,285.15 303.88,285.95 304.24,285.37 304.59,285.81 304.94,285.23 305.29,285.78 305.64,285.89 305.99,285.29 306.34,285.80 306.69,285.31 307.04,283.09 307.39,284.73 307.74,282.45 308.09,285.75 308.44,284.52 308.79,283.33 309.14,285.62 309.50,284.96 309.85,284.85 310.20,285.75 310.55,284.93 310.90,285.20 311.25,283.94 311.60,284.42 311.95,285.27 312.30,283.05 312.65,285.75 313.00,284.33 313.35,285.51 313.70,285.66 314.05,284.62 314.40,284.45 314.76,285.75 315.11,285.16 315.46,285.36 315.81,285.48 316.16,284.03 316.51,282.75 316.86,285.75 317.21,285.40 317.56,283.21 317.91,285.46 318.26,285.50 318.61,285.15 318.96,285.75 319.31,285.51 319.66,285.49 320.02,285.22 320.37,283.46 320.72,283.07 321.07,282.45 321.42,285.75 321.77,282.59 322.12,285.60 322.47,285.41 322.82,285.50 323.17,284.85 323.52,285.75 323.87,285.33 324.22,285.33 324.57,283.98 324.92,283.06 325.28,283.05 325.63,285.75 325.98,283.58 326.33,284.64 326.68,285.49 327.03,285.27 327.38,285.39 327.73,284.45 328.08,285.75 328.43,284.91 328.78,284.78 329.13,283.71 329.48,284.07 329.83,282.75 330.18,285.75 330.54,285.46 330.89,285.45 331.24,285.19 331.59,285.61 331.94,285.15 332.29,285.75 332.64,285.61 332.99,285.38 333.34,283.23 333.69,284.66 334.04,282.45 334.39,285.75 334.74,283.04 335.09,284.24 335.44,285.71 335.80,285.48 336.15,284.94 336.50,284.85 336.85,285.75 337.20,285.71 337.55,285.09 337.90,285.64 338.25,285.70 338.60,283.05 338.95,285.75 339.30,283.83 339.65,283.14 340.00,285.46 340.35,285.22 340.70,284.45 341.06,285.75 341.41,285.68 341.76,284.94 342.11,285.20 342.46,284.87 342.81,282.75 343.16,285.75 343.51,283.32 343.86,284.42 344.21,285.67 344.56,285.38 344.91,285.17 345.26,285.15 345.61,285.75 345.96,285.35 346.32,285.74 346.67,282.60 347.02,285.19 347.37,282.45 347.72,285.75 348.07,285.04 348.42,284.55 348.77,285.11 349.12,285.66 349.47,284.85 349.82,285.75 350.17,285.73 350.52,285.37 350.87,285.19 351.22,283.21 351.58,285.60 351.93,283.05 352.28,285.75 352.63,283.51 352.98,283.92 353.33,284.64 353.68,285.70 354.03,284.45 354.38,285.75 354.73,285.09 355.08,285.43 355.43,285.74 355.78,285.38 356.13,282.75 356.48,285.75 356.84,284.34 357.19,283.43 357.54,285.40 357.89,285.16 358.24,285.15 358.59,285.75 358.94,285.44 359.29,285.60 359.64,284.39 359.99,282.57 360.34,284.36 360.69,282.45 361.04,285.75 361.39,283.27 361.75,282.82 362.10,285.60 362.45,285.30 362.80,284.85 363.15,285.75 363.50,284.88 363.85,285.52 364.20,283.70 364.55,285.19 364.90,283.05 365.25,285.75 365.60,283.67 365.95,283.40 366.30,284.63 366.65,285.68 367.01,284.45 367.36,285.75 367.71,285.66 368.06,285.02 368.41,282.78 368.76,283.96 369.11,283.05 369.46,282.75 369.81,285.75 370.16,284.71 370.51,283.38 370.86,285.60 371.21,285.45 371.56,285.15 371.91,285.75 372.27,285.21 372.62,285.62 372.97,285.33 373.32,282.78 373.67,282.45 374.02,285.75 374.37,285.50 374.72,284.64 375.07,285.16 375.42,285.57 375.77,285.17 376.12,284.85 376.47,285.75 376.82,285.58 377.17,285.27 377.53,283.05 377.88,285.75 378.23,282.62 378.58,272.25 378.93,284.65 379.28,282.52 379.63,284.97 379.98,285.53 380.33,282.98 380.68,282.85 381.03,285.75 381.38,283.07 381.73,282.93 382.08,285.17 382.43,285.55 382.79,285.72 383.14,285.15 383.49,285.75 383.84,285.69 384.19,285.67 384.54,285.68 384.89,284.22 385.24,283.45 385.59,285.75 385.94,283.59 386.29,285.37 386.64,285.56 386.99,285.62 387.34,285.53 387.69,285.45 388.05,285.75 388.40,285.73 388.75,285.68 389.10,283.16 389.45,283.35 389.80,283.15 390.15,285.75 390.50,283.18 390.85,283.47 391.20,285.65 391.55,285.58 391.90,285.05 392.25,284.85 392.60,285.75 392.95,285.64 393.31,285.25 393.66,285.40 394.01,285.17 394.36,282.85 394.71,285.75 395.06,284.80 395.41,284.79 395.76,285.21 396.11,285.61 396.46,285.47 396.81,285.15 397.16,285.75 397.51,285.47 397.86,285.73 398.21,283.53 398.57,284.38 398.92,283.45 399.27,285.75 399.62,284.57 399.97,283.76 400.32,285.57 400.67,285.49 401.02,285.64 401.37,285.45 401.72,285.75 402.07,285.68 402.42,285.59 402.77,285.72 403.12,285.33 403.47,283.60 403.83,283.15 404.18,285.75 404.53,283.37 404.88,284.34 405.23,285.19 405.58,285.04 405.93,284.85 406.28,285.75 406.63,285.13 406.98,285.54 407.33,284.34 407.68,285.65 408.03,285.47 408.38,282.85 408.73,285.75 409.09,283.18 409.44,283.95 409.79,285.68 410.14,285.44 410.49,285.15 410.84,285.75 411.19,285.41 411.54,285.24 411.89,283.96 412.24,283.60 412.59,283.72 412.94,283.45 413.29,285.75 413.64,283.90 413.99,285.05 414.35,285.70 414.70,285.62 415.05,285.45 415.40,285.75 415.75,285.69 416.10,285.70 416.45,283.48 416.80,283.61 417.15,285.36 417.50,283.15 417.85,285.75 418.20,284.44 418.55,284.87 418.90,285.34 419.25,284.94 419.61,284.85 419.96,285.75 420.31,285.49 420.66,285.74 421.01,284.85 421.36,284.43 421.71,284.34 422.06,282.85 422.41,285.75 422.76,284.93 423.11,284.35 423.46,285.70 423.81,285.30 424.16,285.24 424.51,285.15 424.87,285.75 425.22,285.36 425.57,285.29 425.92,285.72 426.27,284.31 426.62,283.45 426.97,285.75 427.32,285.01 427.67,284.35 428.02,285.66 428.37,285.72 428.72,285.61 429.07,285.45 429.42,285.75 429.77,285.72 430.13,285.66 430.48,285.41 430.83,283.70 431.18,283.15 431.53,285.75 431.88,284.74 432.23,284.60 432.58,285.62 432.93,285.54 433.28,285.42 433.63,284.85 433.98,285.75 434.33,285.45 434.68,285.63 435.03,283.09 435.39,285.33 435.74,282.85 436.09,285.75 436.44,285.20 436.79,285.23 437.14,285.21 437.49,285.37 437.84,285.40 438.19,285.15 438.54,285.75 438.89,285.36 439.24,285.38 439.59,285.54 439.94,284.38 440.29,283.60 440.65,283.45 441.00,285.75 441.35,283.86 441.70,284.25 442.05,285.55 442.40,285.66 442.75,285.45 443.10,285.75 443.45,285.46 443.80,285.74 444.15,283.28 444.50,285.31 444.85,283.67 445.20,283.15 445.55,285.75 445.91,285.25 446.26,283.27 446.61,284.99 446.96,285.22 447.31,284.85 447.66,285.75 448.01,285.30 448.36,285.23 448.71,285.07 449.06,282.85 449.41,285.75 449.76,285.20 450.11,284.66 450.46,284.43 450.81,282.05 451.17,284.75 451.52,283.81 451.87,282.93 452.22,285.10 452.57,285.47 452.92,285.02 453.27,284.85 453.62,285.85 453.97,285.15 454.32,284.92 454.67,285.85 455.02,285.85 455.37,285.85 455.72,285.85 456.07,285.85 456.43,285.85 456.78,285.85 457.13,285.48 457.48,284.77 457.83,284.85 458.18,284.25 458.53,285.85 458.88,285.84 459.23,284.41 459.58,285.77 459.93,285.73 460.28,285.69 460.63,285.65 460.98,285.85 461.33,285.71 461.69,285.77 462.04,285.84 462.39,285.03 462.74,285.31 463.09,284.85 463.44,285.85 463.79,285.54 464.14,285.24 464.49,285.21 464.84,285.85 465.19,285.85 465.54,285.85 465.89,285.85 466.24,285.85 466.59,285.85 466.95,285.85 467.30,284.27 467.65,285.72 468.00,284.88 468.35,284.25 468.70,285.85 469.05,284.75 469.40,285.70 469.75,285.80 470.10,285.69 470.45,285.66 470.80,285.65 471.15,285.85 471.50,285.83 471.85,285.69 472.21,285.70 472.56,285.09 472.91,285.55 473.26,284.85 473.61,285.85 473.96,285.80 474.31,285.69 474.66,285.85 475.01,285.85 475.36,285.85 475.71,285.85 476.06,285.85 476.41,285.85 476.76,285.85 477.12,285.01 477.47,284.50 477.82,285.70 478.17,284.25 478.52,285.85 478.87,284.30 479.22,285.34 479.57,285.83 479.92,285.66 480.27,285.65 480.62,285.65 480.97,285.85 481.32,285.71 481.67,285.67 482.02,285.15 482.38,285.58 482.73,285.19 483.08,284.85 483.43,285.85 483.78,285.80 484.13,284.97 484.48,285.57 484.83,285.85 485.18,285.85 485.53,285.85 485.88,285.85 486.23,285.85 486.58,285.85 486.93,285.85 487.28,285.60 487.64,285.60 487.99,285.08 488.34,284.25 488.69,285.85 489.04,284.36 489.39,285.58 489.74,285.82 490.09,285.80 490.44,285.65 490.79,285.85 491.14,285.73 491.49,283.92 491.84,284.90 492.19,284.56 492.54,283.35 492.90,285.15 493.25,284.05 493.60,284.39 493.95,283.40 494.30,283.27 494.65,278.35 495.00,284.65 495.35,281.92 495.70,282.00 496.05,281.85 496.40,285.65 496.75,282.43 497.10,285.37 497.45,283.85 497.80,285.65 498.16,285.38 498.51,285.12 498.86,284.95 499.21,282.65 499.56,285.65 499.91,284.31 500.26,284.45 500.61,284.00 500.96,283.35 501.31,285.65 501.66,283.78 502.01,282.51 502.36,281.85 502.71,285.65 503.06,285.64 503.42,285.12 503.77,283.99 504.12,283.85 504.47,285.65 504.82,285.54 505.17,284.51 505.52,282.65 505.87,285.65 506.22,285.19 506.57,285.27 506.92,284.30 507.27,283.35 507.62,285.65 507.97,283.60 508.32,282.28 508.68,269.35 509.03,284.65 509.38,281.16 509.73,282.73 510.08,282.93 510.43,281.45 510.78,285.65 511.13,285.22 511.48,284.45 511.83,283.65 512.18,285.65 512.53,283.72 512.88,284.40 513.23,284.78 513.58,282.25 513.94,285.65 514.29,285.17 514.64,284.59 514.99,284.05 515.34,285.65 515.69,284.54 516.04,285.21 516.39,283.02 516.74,281.45 517.09,285.65 517.44,282.87 517.79,285.32 518.14,283.87 518.49,283.65 518.84,285.65 519.20,285.44 519.55,282.65 519.90,282.25 520.25,285.65 520.60,284.49 520.95,285.37 521.30,284.05 521.65,285.65 522.00,271.88 522.35,273.52 522.70,200.15 523.05,284.65 523.40,263.79 523.75,284.17 524.10,281.45 524.46,285.65 524.81,281.79 525.16,285.08 525.51,284.65 525.86,283.65 526.21,285.65 526.56,284.74 526.91,283.62 527.26,282.25 527.61,285.65 527.96,283.10 528.31,284.37 528.66,285.54 529.01,284.05 529.36,285.65 529.72,285.30 530.07,285.27 530.42,282.72 530.77,281.45 531.12,285.65 531.47,281.94 531.82,283.69 532.17,283.65 532.52,285.65 532.87,285.30 533.22,282.25 533.57,285.65 533.92,277.48 534.27,228.35 534.62,284.65"/>
<line x1="14" x2="272" y1="320.5" y2="320.5" stroke="#e0e0e0"/>
<line x1="14" x2="272" y1="474.5" y2="474.5" stroke="#e0e0e0"/>
<line x1="14.5" x2="14.5" y1="320" y2="475" stroke="#e0e0e0"/>
<line x1="271.5" x2="271.5" y1="320" y2="475" stroke="#e0e0e0"/>
<text x="144.1" y="334.8" font-size="9.1" text-anchor="middle" fill="#595959" stroke="#595959" stroke-width="0.2">Brake Hydraulic Pressure Model H12</text>
<line x1="32.4" x2="264.0" y1="440.70" y2="440.70" stroke="#d9d9d9" stroke-width="0.8"/>
<text x="26.9" y="442.90" font-size="6.3" text-anchor="end" fill="#4a4a4a" stroke="#4a4a4a" stroke-width="0.12">0</text>
<line x1="32.4" x2="264.0" y1="431.25" y2="431.25" stroke="#d9d9d9" stroke-width="0.8"/>
<text x="26.9" y="433.45" font-size="6.3" text-anchor="end" fill="#4a4a4a" stroke="#4a4a4a" stroke-width="0.12">0.1</text>
<line x1="32.4" x2="264.0" y1="421.80" y2="421.80" stroke="#d9d9d9" stroke-width="0.8"/>
<text x="26.9" y="424.00" font-size="6.3" text-anchor="end" fill="#4a4a4a" stroke="#4a4a4a" stroke-width="0.12">0.2</text>
<line x1="32.4" x2="264.0" y1="412.35" y2="412.35" stroke="#d9d9d9" stroke-width="0.8"/>
<text x="26.9" y="414.55" font-size="6.3" text-anchor="end" fill="#4a4a4a" stroke="#4a4a4a" stroke-width="0.12">0.3</text>
<line x1="32.4" x2="264.0" y1="402.90" y2="402.90" stroke="#d9d9d9" stroke-width="0.8"/>
<text x="26.9" y="405.10" font-size="6.3" text-anchor="end" fill="#4a4a4a" stroke="#4a4a4a" stroke-width="0.12">0.4</text>
<line x1="32.4" x2="264.0" y1="393.45" y2="393.45" stroke="#d9d9d9" stroke-width="0.8"/>
<text x="26.9" y="395.65" font-size="6.3" text-anchor="end" fill="#4a4a4a" stroke="#4a4a4a" stroke-width="0.12">0.5</text>
<line x1="32.4" x2="264.0" y1="384.00" y2="384.00" stroke="#d9d9d9" stroke-width="0.8"/>
<text x="26.9" y="386.20" font-size="6.3" text-anchor="end" fill="#4a4a4a" stroke="#4a4a4a" stroke-width="0.12">0.6</text>
<line x1="32.4" x2="264.0" y1="374.55" y2="374.55" stroke="#d9d9d9" stroke-width="0.8"/>
<text x="26.9" y="376.75" font-size="6.3" text-anchor="end" fill="#4a4a4a" stroke="#4a4a4a" stroke-width="0.12">0.7</text>
<line x1="32.4" x2="264.0" y1="365.10" y2="365.10" stroke="#d9d9d9" stroke-width="0.8"/>
<text x="26.9" y="367.30" font-size="6.3" text-anchor="end" fill="#4a4a4a" stroke="#4a4a4a" stroke-width="0.12">0.8</text>
<line x1="32.4" x2="264.0" y1="355.65" y2="355.65" stroke="#d9d9d9" stroke-width="0.8"/>
<text x="26.9" y="357.85" font-size="6.3" text-anchor="end" fill="#4a4a4a" stroke="#4a4a4a" stroke-width="0.12">0.9</text>
<line x1="32.4" x2="264.0" y1="346.20" y2="346.20" stroke="#d9d9d9" stroke-width="0.8"/>
<text x="26.9" y="348.40" font-size="6.3" text-anchor="end" fill="#4a4a4a" stroke="#4a4a4a" stroke-width="0.12">1</text>
<text transform="translate(35.27,445.30) rotate(-90)" font-size="6.1" text-anchor="end" fill="#4a4a4a" stroke="#4a4a4a" stroke-width="0.12">1</text>
<text transform="translate(43.49,445.30) rotate(-90)" font-size="6.1" text-anchor="end" fill="#4a4a4a" stroke="#4a4a4a" stroke-width="0.12">25</text>
<text transform="translate(51.72,445.30) rotate(-90)" font-size="6.1" text-anchor="end" fill="#4a4a4a" stroke="#4a4a4a" stroke-width="0.12">49</text>
<text transform="translate(59.94,445.30) rotate(-90)" font-size="6.1" text-anchor="end" fill="#4a4a4a" stroke="#4a4a4a" stroke-width="0.12">73</text>
<text transform="translate(68.16,445.30) rotate(-90)" font-size="6.1" text-anchor="end" fill="#4a4a4a" stroke="#4a4a4a" stroke-width="0.12">97</text>
<text transform="translate(76.38,445.30) rotate(-90)" font-size="6.1" text-anchor="end" fill="#4a4a4a" stroke="#4a4a4a" stroke-width="0.12">121</text>
<text transform="translate(84.61,445.30) rotate(-90)" font-size="6.1" text-anchor="end" fill="#4a4a4a" stroke="#4a4a4a" stroke-width="0.12">145</text>
<text transform="translate(92.83,445.30) rotate(-90)" font-size="6.1" text-anchor="end" fill="#4a4a4a" stroke="#4a4a4a" stroke-width="0.12">169</text>
<text transform="translate(101.05,445.30) rotate(-90)" font-size="6.1" text-anchor="end" fill="#4a4a4a" stroke="#4a4a4a" stroke-width="0.12">193</text>
<text transform="translate(109.27,445.30) rotate(-90)" font-size="6.1" text-anchor="end" fill="#4a4a4a" stroke="#4a4a4a" stroke-width="0.12">217</text>
<text transform="translate(117.50,445.30) rotate(-90)" font-size="6.1" text-anchor="end" fill="#4a4a4a" stroke="#4a4a4a" stroke-width="0.12">241</text>
<text transform="translate(125.72,445.30) rotate(-90)" font-size="6.1" text-anchor="end" fill="#4a4a4a" stroke="#4a4a4a" stroke-width="0.12">265</text>
<text transform="translate(133.94,445.30) rotate(-90)" font-size="6.1" text-anchor="end" fill="#4a4a4a" stroke="#4a4a4a" stroke-width="0.12">289</text>
<text transform="translate(142.16,445.30) rotate(-90)" font-size="6.1" text-anchor="end" fill="#4a4a4a" stroke="#4a4a4a" stroke-width="0.12">313</text>
<text transform="translate(150.39,445.30) rotate(-90)" font-size="6.1" text-anchor="end" fill="#4a4a4a" stroke="#4a4a4a" stroke-width="0.12">337</text>
<text transform="translate(158.61,445.30) rotate(-90)" font-size="6.1" text-anchor="end" fill="#4a4a4a" stroke="#4a4a4a" stroke-width="0.12">361</text>
<text transform="translate(166.83,445.30) rotate(-90)" font-size="6.1" text-anchor="end" fill="#4a4a4a" stroke="#4a4a4a" stroke-width="0.12">385</text>
<text transform="translate(175.05,445.30) rotate(-90)" font-size="6.1" text-anchor="end" fill="#4a4a4a" stroke="#4a4a4a" stroke-width="0.12">409</text>
<text transform="translate(183.28,445.30) rotate(-90)" font-size="6.1" text-anchor="end" fill="#4a4a4a" stroke="#4a4a4a" stroke-width="0.12">433</text>
<text transform="translate(191.50,445.30) rotate(-90)" font-size="6.1" text-anchor="end" fill="#4a4a4a" stroke="#4a4a4a" stroke-width="0.12">457</text>
<text transform="translate(199.72,445.30) rotate(-90)" font-size="6.1" text-anchor="end" fill="#4a4a4a" stroke="#4a4a4a" stroke-width="0.12">481</text>
<text transform="translate(207.94,445.30) rotate(-90)" font-size="6.1" text-anchor="end" fill="#4a4a4a" stroke="#4a4a4a" stroke-width="0.12">505</text>
<text transform="translate(216.17,445.30) rotate(-90)" font-size="6.1" text-anchor="end" fill="#4a4a4a" stroke="#4a4a4a" stroke-width="0.12">529</text>
<text transform="translate(224.39,445.30) rotate(-90)" font-size="6.1" text-anchor="end" fill="#4a4a4a" stroke="#4a4a4a" stroke-width="0.12">553</text>
<text transform="translate(232.61,445.30) rotate(-90)" font-size="6.1" text-anchor="end" fill="#4a4a4a" stroke="#4a4a4a" stroke-width="0.12">577</text>
<text transform="translate(240.83,445.30) rotate(-90)" font-size="6.1" text-anchor="end" fill="#4a4a4a" stroke="#4a4a4a" stroke-width="0.12">601</text>
<text transform="translate(249.06,445.30) rotate(-90)" font-size="6.1" text-anchor="end" fill="#4a4a4a" stroke="#4a4a4a" stroke-width="0.12">625</text>
<text transform="translate(257.28,445.30) rotate(-90)" font-size="6.1" text-anchor="end" fill="#4a4a4a" stroke="#4a4a4a" stroke-width="0.12">649</text>
<text transform="translate(265.50,445.30) rotate(-90)" font-size="6.1" text-anchor="end" fill="#4a4a4a" stroke="#4a4a4a" stroke-width="0.12">673</text>
<text x="148.20" y="463.5" font-size="6.5" text-anchor="middle" fill="#595959" stroke="#595959" stroke-width="0.15">Time of the Year</text>
<polyline fill="none" stroke="#4472c4" stroke-width="1.7" stroke-linejoin="round" points="32.57,432.13 32.91,427.28 33.26,423.85 33.60,437.15 33.94,434.43 34.28,424.62 34.63,419.44 34.97,384.54 35.31,380.45 35.65,433.15 36.00,381.98 36.34,405.29 36.68,385.49 37.03,382.75 37.37,431.15 37.71,414.16 38.05,387.55 38.40,438.04 38.74,406.95 39.08,438.95 39.42,429.89 39.77,432.86 40.11,382.75 40.45,436.15 40.79,428.89 41.14,428.49 41.48,407.35 41.82,430.60 42.16,406.95 42.51,437.15 42.85,415.39 43.19,436.12 43.53,413.07 43.88,405.15 44.22,438.95 44.56,410.54 44.91,412.01 45.25,433.33 45.59,427.06 45.93,382.75 46.28,435.15 46.62,433.49 46.96,397.72 47.30,402.96 47.65,397.65 47.99,438.95 48.33,406.30 48.67,430.05 49.02,436.21 49.36,390.48 49.70,383.65 50.04,437.15 50.39,399.13 50.73,431.21 51.07,405.97 51.41,382.75 51.76,433.15 52.10,416.91 52.44,422.83 52.78,433.83 53.13,398.27 53.47,380.85 53.81,437.15 54.16,435.27 54.50,420.97 54.84,412.14 55.18,379.95 55.53,425.85 55.87,396.53 56.21,387.35 56.55,422.18 56.90,378.95 57.24,429.55 57.58,382.25 57.92,414.30 58.27,411.29 58.61,423.84 58.95,392.05 59.29,423.95 59.64,413.68 59.98,405.34 60.32,417.20 60.66,393.95 61.01,427.65 61.35,421.53 61.69,411.45 62.04,405.96 62.38,411.29 62.72,397.65 63.06,423.95 63.41,416.18 63.75,381.20 64.09,379.93 64.43,378.95 64.78,418.35 65.12,379.85 65.46,388.81 65.80,399.94 66.15,403.04 66.49,380.85 66.83,403.45 67.17,398.65 67.52,398.17 67.86,401.08 68.20,378.95 68.54,431.45 68.89,379.43 69.23,429.00 69.57,394.90 69.92,388.54 70.26,386.45 70.60,433.15 70.94,395.63 71.29,408.85 71.63,429.55 71.97,404.27 72.31,380.49 72.66,378.05 73.00,412.75 73.34,410.74 73.68,400.80 74.03,387.61 74.37,390.22 74.71,379.95 75.05,401.55 75.40,396.70 75.74,430.57 76.08,423.17 76.42,395.01 76.77,384.55 77.11,436.15 77.45,428.91 77.79,434.26 78.14,406.13 78.48,405.44 78.82,388.35 79.17,407.15 79.51,394.76 79.85,391.83 80.19,378.95 80.54,394.15 80.88,390.66 81.22,396.85 81.56,382.24 81.91,378.05 82.25,433.35 82.59,408.20 82.93,416.07 83.28,384.34 83.62,392.93 83.96,378.95 84.30,395.95 84.65,380.28 84.99,382.66 85.33,387.69 85.67,378.05 86.02,409.05 86.36,408.95 86.70,404.04 87.05,384.79 87.39,383.96 87.73,383.65 88.07,407.15 88.42,396.19 88.76,432.29 89.10,434.27 89.44,390.15 89.79,437.05 90.13,430.09 90.47,399.19 90.81,392.29 91.16,378.95 91.50,403.45 91.84,389.28 92.18,395.31 92.53,396.00 92.87,393.95 93.21,418.35 93.55,394.75 93.90,406.31 94.24,424.78 94.58,426.06 94.93,390.15 95.27,431.45 95.61,420.37 95.95,395.33 96.30,388.20 96.64,383.65 96.98,395.95 97.32,393.34 97.67,381.75 98.01,393.82 98.35,378.95 98.69,405.25 99.04,382.88 99.38,383.03 99.72,391.77 100.06,397.95 100.41,384.55 100.75,409.05 101.09,409.03 101.43,412.02 101.78,387.17 102.12,386.45 102.46,416.45 102.81,400.06 103.15,401.81 103.49,424.21 103.83,417.16 104.18,399.55 104.52,433.35 104.86,409.39 105.20,394.27 105.55,403.99 105.89,385.55 106.23,407.15 106.57,393.69 106.92,385.80 107.26,415.62 107.60,403.53 107.94,406.14 108.29,409.48 108.63,395.85 108.97,416.45 109.31,397.69 109.66,410.84 110.00,411.96 110.34,399.55 110.68,423.09 111.03,411.95 111.37,380.85 111.71,429.55 112.06,419.13 112.40,391.81 112.74,399.12 113.08,389.69 113.43,380.85 113.77,407.15 114.11,400.83 114.45,407.76 114.80,406.23 115.14,399.55 115.48,422.15 115.82,405.90 116.17,401.73 116.51,389.75 116.85,378.95 117.19,425.85 117.54,411.35 117.88,412.07 118.22,412.91 118.56,393.92 118.91,382.75 119.25,414.65 119.59,401.27 119.94,386.69 120.28,395.83 120.62,386.45 120.96,407.15 121.31,391.64 121.65,393.25 121.99,393.84 122.33,388.83 122.68,385.55 123.02,403.45 123.36,397.14 123.70,410.08 124.05,408.16 124.39,399.55 124.73,412.75 125.07,408.05 125.42,418.16 125.76,409.56 126.10,406.95 126.44,422.15 126.79,412.27 127.13,409.34 127.47,404.46 127.82,392.90 128.16,386.45 128.50,407.15 128.84,406.66 129.19,387.35 129.53,395.28 129.87,394.29 130.21,384.55 130.56,405.25 130.90,387.99 131.24,396.58 131.58,382.03 131.93,380.85 132.27,399.65 132.61,389.82 132.95,383.59 133.30,360.35 133.64,388.45 133.98,383.39 134.32,398.16 134.67,400.73 135.01,378.95 135.35,405.25 135.69,399.47 136.04,389.97 136.38,401.46 136.72,400.00 137.07,390.15 137.41,407.15 137.75,400.75 138.09,410.41 138.44,402.68 138.78,395.85 139.12,414.65 139.46,409.39 139.81,390.88 140.15,412.24 140.49,390.15 140.83,416.45 141.18,401.75 141.52,399.35 141.86,390.70 142.20,392.93 142.55,385.55 142.89,409.05 143.23,400.38 143.57,397.52 143.92,394.09 144.26,365.95 144.60,397.85 144.95,396.05 145.29,397.42 145.63,390.22 145.97,405.70 146.32,386.45 146.66,414.65 147.00,391.57 147.34,401.29 147.69,415.78 148.03,397.65 148.37,416.45 148.71,406.40 149.06,412.15 149.40,388.35 149.74,414.65 150.08,401.03 150.43,395.92 150.77,385.55 151.11,410.85 151.45,391.57 151.80,411.29 152.14,412.74 152.48,397.65 152.83,412.75 153.17,403.77 153.51,408.54 153.85,412.86 154.20,421.79 154.54,405.15 154.88,423.95 155.22,420.78 155.57,416.92 155.91,370.60 156.25,379.81 156.59,369.65 156.94,395.95 157.28,372.14 157.62,381.61 157.96,385.36 158.31,386.87 158.65,378.95 158.99,397.85 159.33,397.06 159.68,399.48 160.02,396.77 160.36,390.15 160.71,401.55 161.05,399.42 161.39,394.23 161.73,382.33 162.08,392.88 162.42,374.35 162.76,395.95 163.10,387.22 163.45,395.68 163.79,381.98 164.13,380.85 164.47,407.15 164.82,406.31 165.16,391.14 165.50,421.15 165.84,401.35 166.19,423.05 166.53,418.20 166.87,407.14 167.21,362.15 167.56,407.15 167.90,405.94 168.24,401.33 168.58,396.57 168.93,386.45 169.27,412.75 169.61,390.15 169.96,396.20 170.30,418.12 170.64,415.34 170.98,408.85 171.33,419.25 171.67,413.34 172.01,416.90 172.35,412.97 172.70,410.96 173.04,410.75 173.38,418.35 173.72,413.64 174.07,411.05 174.41,414.99 174.75,406.38 175.09,399.55 175.44,416.45 175.78,403.94 176.12,414.54 176.46,411.77 176.81,408.85 177.15,414.65 177.49,411.26 177.84,412.80 178.18,414.15 178.52,398.96 178.86,382.75 179.21,414.65 179.55,391.89 179.89,382.84 180.23,398.65 180.58,364.05 180.92,403.45 181.26,388.54 181.60,388.68 181.95,407.17 182.29,357.55 182.63,427.75 182.97,412.43 183.32,369.71 183.66,381.20 184.00,393.14 184.34,380.85 184.69,407.15 185.03,388.05 185.37,386.50 185.72,408.09 186.06,407.26 186.40,384.55 186.74,414.65 187.09,392.61 187.43,409.99 187.77,414.31 188.11,417.63 188.46,384.55 188.80,420.25 189.14,402.74 189.48,401.03 189.83,390.15 190.17,410.85 190.51,403.50 190.85,409.74 191.20,407.10 191.54,405.15 191.88,412.75 192.22,406.05 192.57,406.97 192.91,397.16 193.25,399.98 193.59,392.05 193.94,409.05 194.28,397.76 194.62,407.73 194.97,410.35 195.31,403.25 195.65,418.35 195.99,410.26 196.34,410.60 196.68,409.00 197.02,405.15 197.36,420.25 197.71,414.07 198.05,419.70 198.39,408.48 198.73,412.34 199.08,405.15 199.42,418.35 199.76,417.25 200.10,407.14 200.45,399.77 200.79,392.05 201.13,409.05 201.47,392.30 201.82,395.82 202.16,406.50 202.50,406.48 202.85,403.25 203.19,410.85 203.53,408.63 203.87,399.70 204.22,397.97 204.56,390.15 204.90,405.25 205.24,403.92 205.59,399.43 205.93,374.69 206.27,366.89 206.61,362.15 206.96,394.15 207.30,368.44 207.64,363.95 207.98,361.22 208.33,357.55 208.67,379.15 209.01,358.98 209.35,361.09 209.70,367.62 210.04,365.94 210.38,358.45 210.73,371.65 211.07,362.23 211.41,396.22 211.75,367.73 212.10,364.05 212.44,405.25 212.78,369.93 213.12,372.27 213.47,371.90 213.81,365.95 214.15,379.15 214.49,372.52 214.84,374.78 215.18,369.99 215.52,376.84 215.86,365.95 216.21,392.25 216.55,387.30 216.89,390.45 217.23,380.59 217.58,378.64 217.92,371.55 218.26,410.85 218.61,402.67 218.95,410.76 219.29,416.02 219.63,399.55 219.98,416.45 220.32,411.76 220.66,403.17 221.00,390.17 221.35,390.15 221.69,403.45 222.03,399.48 222.37,402.80 222.72,395.17 223.06,394.12 223.40,380.85 223.74,397.85 224.09,391.83 224.43,372.81 224.77,390.29 225.11,394.31 225.46,371.55 225.80,397.85 226.14,379.24 226.48,373.71 226.83,375.49 227.17,360.35 227.51,364.25 227.86,364.02 228.20,358.45 228.54,367.95 228.88,359.98 229.23,362.04 229.57,359.89 229.91,370.32 230.25,359.35 230.60,371.65 230.94,364.01 231.28,363.51 231.62,379.96 231.97,362.15 232.31,381.05 232.65,373.02 232.99,367.02 233.34,375.31 233.68,375.10 234.02,361.25 234.36,377.25 234.71,368.16 235.05,368.62 235.39,370.86 235.74,360.35 236.08,386.65 236.42,373.23 236.76,361.97 237.11,370.24 237.45,386.83 237.79,359.35 238.13,388.45 238.48,379.64 238.82,361.02 239.16,364.72 239.50,358.45 239.85,375.45 240.19,367.05 240.53,359.97 240.87,367.23 241.22,364.73 241.56,359.35 241.90,373.55 242.24,363.09 242.59,369.87 242.93,373.89 243.27,358.45 243.62,379.15 243.96,373.99 244.30,378.45 244.64,385.68 244.99,367.75 245.33,388.45 245.67,372.60 246.01,380.77 246.36,381.95 246.70,384.63 247.04,358.45 247.38,390.35 247.73,381.20 248.07,377.61 248.41,382.99 248.75,364.05 249.10,384.75 249.44,377.88 249.78,382.86 250.12,375.70 250.47,393.61 250.81,367.75 251.15,431.45 251.49,382.95 251.84,392.89 252.18,378.49 252.52,357.55 252.87,397.85 253.21,370.58 253.55,365.75 253.89,359.29 254.24,373.75 254.58,357.55 254.92,416.45 255.26,360.71 255.61,381.01 255.95,374.56 256.29,371.55 256.63,434.25 256.98,414.26 257.32,420.26 257.66,363.02 258.00,359.53 258.35,358.45 258.69,397.85 259.03,384.65 259.37,401.45 259.72,403.53 260.06,358.45 260.40,410.85 260.75,391.19 261.09,392.28 261.43,365.50 261.77,378.45 262.12,358.45 262.46,388.45 262.80,376.86 263.14,419.36 263.49,390.15 263.83,422.15"/>
<line x1="285" x2="543" y1="320.5" y2="320.5" stroke="#e0e0e0"/>
<line x1="285" x2="543" y1="474.5" y2="474.5" stroke="#e0e0e0"/>
<line x1="285.5" x2="285.5" y1="320" y2="475" stroke="#e0e0e0"/>
<line x1="542.5" x2="542.5" y1="320" y2="475" stroke="#e0e0e0"/>
<text x="415.1" y="334.8" font-size="9.1" text-anchor="middle" fill="#595959" stroke="#595959" stroke-width="0.2">Brake Hydraulic Pressure Model H14</text>
<line x1="304.0" x2="534.6" y1="440.60" y2="440.60" stroke="#d9d9d9" stroke-width="0.8"/>
<text x="298.5" y="442.80" font-size="6.3" text-anchor="end" fill="#4a4a4a" stroke="#4a4a4a" stroke-width="0.12">0</text>
<line x1="304.0" x2="534.6" y1="428.84" y2="428.84" stroke="#d9d9d9" stroke-width="0.8"/>
<text x="298.5" y="431.04" font-size="6.3" text-anchor="end" fill="#4a4a4a" stroke="#4a4a4a" stroke-width="0.12">0.2</text>
<line x1="304.0" x2="534.6" y1="417.08" y2="417.08" stroke="#d9d9d9" stroke-width="0.8"/>
<text x="298.5" y="419.28" font-size="6.3" text-anchor="end" fill="#4a4a4a" stroke="#4a4a4a" stroke-width="0.12">0.4</text>
<line x1="304.0" x2="534.6" y1="405.31" y2="405.31" stroke="#d9d9d9" stroke-width="0.8"/>
<text x="298.5" y="407.51" font-size="6.3" text-anchor="end" fill="#4a4a4a" stroke="#4a4a4a" stroke-width="0.12">0.6</text>
<line x1="304.0" x2="534.6" y1="393.55" y2="393.55" stroke="#d9d9d9" stroke-width="0.8"/>
<text x="298.5" y="395.75" font-size="6.3" text-anchor="end" fill="#4a4a4a" stroke="#4a4a4a" stroke-width="0.12">0.8</text>
<line x1="304.0" x2="534.6" y1="381.79" y2="381.79" stroke="#d9d9d9" stroke-width="0.8"/>
<text x="298.5" y="383.99" font-size="6.3" text-anchor="end" fill="#4a4a4a" stroke="#4a4a4a" stroke-width="0.12">1</text>
<line x1="304.0" x2="534.6" y1="370.02" y2="370.02" stroke="#d9d9d9" stroke-width="0.8"/>
<text x="298.5" y="372.22" font-size="6.3" text-anchor="end" fill="#4a4a4a" stroke="#4a4a4a" stroke-width="0.12">1.2</text>
<line x1="304.0" x2="534.6" y1="358.26" y2="358.26" stroke="#d9d9d9" stroke-width="0.8"/>
<text x="298.5" y="360.46" font-size="6.3" text-anchor="end" fill="#4a4a4a" stroke="#4a4a4a" stroke-width="0.12">1.4</text>
<line x1="304.0" x2="534.6" y1="346.50" y2="346.50" stroke="#d9d9d9" stroke-width="0.8"/>
<text x="298.5" y="348.70" font-size="6.3" text-anchor="end" fill="#4a4a4a" stroke="#4a4a4a" stroke-width="0.12">1.6</text>
<text transform="translate(306.87,445.20) rotate(-90)" font-size="6.1" text-anchor="end" fill="#4a4a4a" stroke="#4a4a4a" stroke-width="0.12">1</text>
<text transform="translate(315.08,445.20) rotate(-90)" font-size="6.1" text-anchor="end" fill="#4a4a4a" stroke="#4a4a4a" stroke-width="0.12">25</text>
<text transform="translate(323.29,445.20) rotate(-90)" font-size="6.1" text-anchor="end" fill="#4a4a4a" stroke="#4a4a4a" stroke-width="0.12">49</text>
<text transform="translate(331.50,445.20) rotate(-90)" font-size="6.1" text-anchor="end" fill="#4a4a4a" stroke="#4a4a4a" stroke-width="0.12">73</text>
<text transform="translate(339.72,445.20) rotate(-90)" font-size="6.1" text-anchor="end" fill="#4a4a4a" stroke="#4a4a4a" stroke-width="0.12">97</text>
<text transform="translate(347.93,445.20) rotate(-90)" font-size="6.1" text-anchor="end" fill="#4a4a4a" stroke="#4a4a4a" stroke-width="0.12">121</text>
<text transform="translate(356.14,445.20) rotate(-90)" font-size="6.1" text-anchor="end" fill="#4a4a4a" stroke="#4a4a4a" stroke-width="0.12">145</text>
<text transform="translate(364.35,445.20) rotate(-90)" font-size="6.1" text-anchor="end" fill="#4a4a4a" stroke="#4a4a4a" stroke-width="0.12">169</text>
<text transform="translate(372.56,445.20) rotate(-90)" font-size="6.1" text-anchor="end" fill="#4a4a4a" stroke="#4a4a4a" stroke-width="0.12">193</text>
<text transform="translate(380.77,445.20) rotate(-90)" font-size="6.1" text-anchor="end" fill="#4a4a4a" stroke="#4a4a4a" stroke-width="0.12">217</text>
<text transform="translate(388.98,445.20) rotate(-90)" font-size="6.1" text-anchor="end" fill="#4a4a4a" stroke="#4a4a4a" stroke-width="0.12">241</text>
<text transform="translate(397.20,445.20) rotate(-90)" font-size="6.1" text-anchor="end" fill="#4a4a4a" stroke="#4a4a4a" stroke-width="0.12">265</text>
<text transform="translate(405.41,445.20) rotate(-90)" font-size="6.1" text-anchor="end" fill="#4a4a4a" stroke="#4a4a4a" stroke-width="0.12">289</text>
<text transform="translate(413.62,445.20) rotate(-90)" font-size="6.1" text-anchor="end" fill="#4a4a4a" stroke="#4a4a4a" stroke-width="0.12">313</text>
<text transform="translate(421.83,445.20) rotate(-90)" font-size="6.1" text-anchor="end" fill="#4a4a4a" stroke="#4a4a4a" stroke-width="0.12">337</text>
<text transform="translate(430.04,445.20) rotate(-90)" font-size="6.1" text-anchor="end" fill="#4a4a4a" stroke="#4a4a4a" stroke-width="0.12">361</text>
<text transform="translate(438.25,445.20) rotate(-90)" font-size="6.1" text-anchor="end" fill="#4a4a4a" stroke="#4a4a4a" stroke-width="0.12">385</text>
<text transform="translate(446.46,445.20) rotate(-90)" font-size="6.1" text-anchor="end" fill="#4a4a4a" stroke="#4a4a4a" stroke-width="0.12">409</text>
<text transform="translate(454.67,445.20) rotate(-90)" font-size="6.1" text-anchor="end" fill="#4a4a4a" stroke="#4a4a4a" stroke-width="0.12">433</text>
<text transform="translate(462.89,445.20) rotate(-90)" font-size="6.1" text-anchor="end" fill="#4a4a4a" stroke="#4a4a4a" stroke-width="0.12">457</text>
<text transform="translate(471.10,445.20) rotate(-90)" font-size="6.1" text-anchor="end" fill="#4a4a4a" stroke="#4a4a4a" stroke-width="0.12">481</text>
<text transform="translate(479.31,445.20) rotate(-90)" font-size="6.1" text-anchor="end" fill="#4a4a4a" stroke="#4a4a4a" stroke-width="0.12">505</text>
<text transform="translate(487.52,445.20) rotate(-90)" font-size="6.1" text-anchor="end" fill="#4a4a4a" stroke="#4a4a4a" stroke-width="0.12">529</text>
<text transform="translate(495.73,445.20) rotate(-90)" font-size="6.1" text-anchor="end" fill="#4a4a4a" stroke="#4a4a4a" stroke-width="0.12">553</text>
<text transform="translate(503.94,445.20) rotate(-90)" font-size="6.1" text-anchor="end" fill="#4a4a4a" stroke="#4a4a4a" stroke-width="0.12">577</text>
<text transform="translate(512.15,445.20) rotate(-90)" font-size="6.1" text-anchor="end" fill="#4a4a4a" stroke="#4a4a4a" stroke-width="0.12">601</text>
<text transform="translate(520.36,445.20) rotate(-90)" font-size="6.1" text-anchor="end" fill="#4a4a4a" stroke="#4a4a4a" stroke-width="0.12">625</text>
<text transform="translate(528.58,445.20) rotate(-90)" font-size="6.1" text-anchor="end" fill="#4a4a4a" stroke="#4a4a4a" stroke-width="0.12">649</text>
<text transform="translate(536.79,445.20) rotate(-90)" font-size="6.1" text-anchor="end" fill="#4a4a4a" stroke="#4a4a4a" stroke-width="0.12">673</text>
<text x="419.30" y="463.5" font-size="6.5" text-anchor="middle" fill="#595959" stroke="#595959" stroke-width="0.15">Time of the Year</text>
<polyline fill="none" stroke="#4472c4" stroke-width="1.7" stroke-linejoin="round" points="304.17,435.89 304.51,428.26 304.86,426.05 305.20,438.45 305.54,432.06 305.88,430.02 306.22,437.55 306.57,427.35 306.91,437.55 307.25,434.11 307.59,431.29 307.93,425.55 308.28,432.05 308.62,430.82 308.96,434.12 309.30,435.44 309.65,435.04 309.99,428.35 310.33,437.55 310.67,435.73 311.01,430.84 311.36,432.28 311.70,426.45 312.04,432.95 312.38,432.08 312.72,429.22 313.07,428.13 313.41,430.33 313.75,426.45 314.09,435.15 314.44,433.45 314.78,432.84 315.12,433.44 315.46,435.80 315.80,427.35 316.15,437.55 316.49,435.40 316.83,426.59 317.17,436.01 317.51,421.05 317.86,437.55 318.20,434.25 318.54,424.27 318.88,436.83 319.23,431.05 319.57,437.55 319.91,437.40 320.25,425.03 320.59,427.65 320.94,421.95 321.28,437.55 321.62,426.49 321.96,422.71 322.30,434.66 322.65,436.60 322.99,429.25 323.33,438.45 323.67,435.28 324.01,435.13 324.36,436.44 324.70,422.54 325.04,421.05 325.38,437.55 325.73,429.54 326.07,426.91 326.41,436.21 326.75,432.49 327.09,431.05 327.44,438.45 327.78,438.28 328.12,438.24 328.46,430.46 328.80,430.87 329.15,426.45 329.49,437.55 329.83,429.83 330.17,431.01 330.52,429.00 330.86,429.23 331.20,428.35 331.54,435.65 331.88,432.18 332.23,429.89 332.57,431.10 332.91,429.25 333.25,434.75 333.59,430.97 333.94,435.02 334.28,432.37 334.62,435.50 334.96,428.35 335.31,436.65 335.65,430.09 335.99,429.47 336.33,434.15 336.67,437.47 337.02,436.11 337.36,437.44 337.70,431.05 338.04,437.55 338.38,433.21 338.73,431.67 339.07,435.08 339.41,433.80 339.75,430.86 340.10,433.03 340.44,427.35 340.78,436.65 341.12,428.53 341.46,427.35 341.81,427.85 342.15,434.18 342.49,435.89 342.83,434.43 343.17,428.35 343.52,438.45 343.86,438.26 344.20,435.97 344.54,438.24 344.89,430.24 345.23,435.42 345.57,430.27 345.91,429.25 346.25,438.45 346.60,433.36 346.94,430.80 347.28,436.57 347.62,431.38 347.96,431.25 348.31,429.45 348.65,426.45 348.99,436.65 349.33,430.62 349.68,435.77 350.02,434.06 350.36,431.22 350.70,433.04 351.04,429.25 351.39,436.65 351.73,435.05 352.07,438.85 352.41,430.05 352.75,439.25 353.10,439.20 353.44,428.27 353.78,431.57 354.12,426.85 354.47,438.35 354.81,431.00 355.15,437.58 355.49,435.68 355.83,433.22 356.18,432.75 356.52,439.25 356.86,434.41 357.20,436.58 357.54,437.57 357.89,434.37 358.23,431.85 358.57,438.35 358.91,433.59 359.26,436.99 359.60,426.85 359.94,438.35 360.28,436.97 360.62,437.94 360.97,433.52 361.31,436.44 361.65,430.05 361.99,439.25 362.33,437.45 362.68,436.27 363.02,436.12 363.36,437.03 363.70,424.34 364.04,423.25 364.39,437.45 364.73,428.59 365.07,428.89 365.41,430.87 365.76,433.97 366.10,427.35 366.44,438.35 366.78,432.72 367.12,433.38 367.47,438.78 367.81,437.10 368.15,431.85 368.49,439.25 368.83,431.90 369.18,435.92 369.52,428.25 369.86,437.45 370.20,423.12 370.55,436.99 370.89,422.25 371.23,437.45 371.57,434.01 371.91,428.38 372.26,429.94 372.60,427.35 372.94,436.55 373.28,430.68 373.62,427.92 373.97,428.96 374.31,428.04 374.65,436.23 374.99,427.35 375.34,438.35 375.68,437.77 376.02,431.60 376.36,431.99 376.70,433.46 377.05,437.87 377.39,435.61 377.73,431.85 378.07,439.25 378.41,435.32 378.76,438.51 379.10,434.53 379.44,438.31 379.78,436.82 380.13,435.31 380.47,432.75 380.81,439.25 381.15,433.69 381.49,435.17 381.84,433.38 382.18,428.96 382.52,431.83 382.86,427.75 383.20,439.25 383.55,433.07 383.89,439.23 384.23,439.65 384.57,439.39 384.92,439.25 385.26,439.28 385.60,439.22 385.94,439.46 386.28,439.88 386.63,439.22 386.97,439.86 387.31,439.59 387.65,439.71 387.99,439.32 388.34,439.26 388.68,439.20 389.02,439.88 389.36,439.60 389.71,439.77 390.05,439.59 390.39,439.37 390.73,439.38 391.07,439.15 391.42,439.95 391.76,439.20 392.10,439.31 392.44,439.93 392.78,439.72 393.13,439.90 393.47,439.88 393.81,439.84 394.15,439.73 394.50,439.92 394.84,439.61 395.18,439.89 395.52,439.92 395.86,439.22 396.21,439.30 396.55,439.66 396.89,439.52 397.23,439.18 397.57,439.81 397.92,439.45 398.26,439.91 398.60,439.93 398.94,437.58 399.29,436.85 399.63,439.95 399.97,439.79 400.31,439.85 400.65,439.85 401.00,439.85 401.34,439.85 401.68,439.85 402.02,439.85 402.36,439.85 402.71,439.85 403.05,433.90 403.39,433.44 403.73,438.22 404.07,427.95 404.42,439.05 404.76,428.77 405.10,433.28 405.44,428.29 405.79,433.62 406.13,431.39 406.47,435.31 406.81,430.35 407.15,437.25 407.50,431.39 407.84,433.33 408.18,433.03 408.52,435.79 408.86,435.79 409.21,427.95 409.55,436.25 409.89,435.08 410.23,436.80 410.58,435.15 410.92,433.07 411.26,435.67 411.60,432.25 411.94,437.25 412.29,433.45 412.63,434.39 412.97,436.18 413.31,436.55 413.65,437.96 414.00,433.25 414.34,439.05 414.68,435.14 415.02,436.84 415.37,435.21 415.71,433.81 416.05,430.37 416.39,430.35 416.73,439.05 417.08,435.14 417.42,433.29 417.76,436.58 418.10,436.50 418.44,435.56 418.79,435.93 419.13,435.85 419.47,435.15 419.81,437.25 420.16,437.19 420.50,436.91 420.84,436.46 421.18,433.19 421.52,439.01 421.87,429.15 422.21,439.65 422.55,429.57 422.89,432.23 423.23,431.24 423.58,432.60 423.92,430.35 424.26,438.15 424.60,431.13 424.95,435.28 425.29,439.38 425.63,435.09 425.97,406.05 426.31,439.65 426.66,433.04 427.00,437.76 427.34,436.34 427.68,435.31 428.02,435.15 428.37,437.25 428.71,435.77 429.05,432.39 429.39,430.96 429.74,428.95 430.08,436.25 430.42,435.26 430.76,435.02 431.10,434.86 431.45,434.40 431.79,436.01 432.13,436.21 432.47,436.14 432.81,434.15 433.16,436.25 433.50,436.08 433.84,434.67 434.18,435.57 434.53,434.72 434.87,435.52 435.21,429.62 435.55,432.51 435.89,426.55 436.24,437.25 436.58,428.71 436.92,428.06 437.26,432.58 437.60,435.98 437.95,435.97 438.29,434.80 438.63,435.72 438.97,431.25 439.31,437.25 439.66,435.99 440.00,432.78 440.34,437.22 440.68,433.00 441.03,432.95 441.37,426.68 441.71,423.65 442.05,437.25 442.39,424.92 442.74,429.15 443.08,438.64 443.42,431.14 443.76,437.59 444.10,426.55 444.45,439.05 444.79,438.41 445.13,438.70 445.47,438.07 445.82,428.05 446.16,432.50 446.50,429.39 446.84,427.45 447.18,439.05 447.53,428.05 447.87,437.43 448.21,437.16 448.55,428.58 448.89,437.23 449.24,427.95 449.58,437.25 449.92,435.65 450.26,436.44 450.61,432.95 450.95,434.98 451.29,424.15 451.63,439.05 451.97,426.12 452.32,430.45 452.66,435.12 453.00,425.55 453.34,437.25 453.68,436.98 454.03,432.76 454.37,431.62 454.71,432.85 455.05,431.36 455.40,428.45 455.74,436.25 456.08,432.20 456.42,434.14 456.76,430.55 457.11,430.34 457.45,429.35 457.79,438.15 458.13,431.04 458.47,432.65 458.82,429.67 459.16,427.45 459.50,439.05 459.84,434.13 460.19,428.05 460.53,436.33 460.87,437.66 461.21,439.16 461.55,435.55 461.90,439.65 462.24,437.98 462.58,437.71 462.92,439.08 463.26,435.62 463.61,433.98 463.95,431.75 464.29,439.05 464.63,437.67 464.98,435.62 465.32,435.02 465.66,439.10 466.00,438.80 466.34,434.15 466.69,439.65 467.03,439.21 467.37,434.87 467.71,438.85 468.05,434.55 468.40,437.34 468.74,433.15 469.08,436.53 469.42,432.25 469.77,439.05 470.11,438.06 470.45,436.58 470.79,432.29 471.13,438.75 471.48,435.15 471.82,439.05 472.16,438.97 472.50,436.36 472.84,421.75 473.19,439.05 473.53,435.73 473.87,437.24 474.21,437.28 474.56,438.66 474.90,437.05 475.24,439.65 475.58,437.38 475.92,437.28 476.27,439.23 476.61,433.58 476.95,437.75 477.29,433.57 477.63,429.35 477.98,438.15 478.32,436.18 478.66,433.86 479.00,429.76 479.34,426.60 479.69,433.96 480.03,430.14 480.37,426.55 480.71,435.35 481.06,434.18 481.40,429.63 481.74,433.57 482.08,434.76 482.42,429.54 482.77,435.84 483.11,428.45 483.45,436.75 483.79,433.46 484.13,430.78 484.48,429.58 484.82,432.06 485.16,429.28 485.50,430.73 485.85,428.45 486.19,435.75 486.53,434.14 486.87,435.12 487.21,435.60 487.56,430.74 487.90,437.57 488.24,388.55 488.58,439.15 488.92,434.71 489.27,437.15 489.61,438.43 489.95,435.52 490.29,435.94 490.64,438.82 490.98,435.15 491.32,439.65 491.66,437.98 492.00,435.78 492.35,438.48 492.69,437.59 493.03,432.51 493.37,434.41 493.71,434.89 494.06,433.10 494.40,431.75 494.74,438.65 495.08,435.70 495.43,433.59 495.77,438.45 496.11,434.10 496.45,428.99 496.79,428.15 497.14,437.65 497.48,430.75 497.82,437.64 498.16,433.42 498.50,434.34 498.85,424.15 499.19,434.65 499.53,434.58 499.87,429.86 500.22,427.48 500.56,431.07 500.90,431.05 501.24,430.48 501.58,427.15 501.93,432.55 502.27,430.52 502.61,432.00 502.95,431.66 503.29,431.32 503.64,429.57 503.98,428.15 504.32,436.65 504.66,429.40 505.01,430.98 505.35,430.67 505.69,431.62 506.03,427.15 506.37,434.65 506.72,427.30 507.06,430.66 507.40,437.11 507.74,437.66 508.08,429.15 508.43,438.65 508.77,433.38 509.11,438.53 509.45,434.60 509.80,426.41 510.14,426.15 510.48,434.65 510.82,431.92 511.16,430.57 511.51,427.68 511.85,433.74 512.19,427.15 512.53,434.65 512.87,432.44 513.22,428.69 513.56,434.30 513.90,427.15 514.24,436.65 514.59,431.76 514.93,413.95 515.27,436.65 515.61,432.75 515.95,435.97 516.30,428.15 516.64,438.65 516.98,433.84 517.32,435.02 517.66,433.42 518.01,428.48 518.35,427.15 518.69,438.65 519.03,432.36 519.37,427.37 519.72,435.69 520.06,438.17 520.40,428.15 520.74,438.65 521.09,435.99 521.43,431.70 521.77,427.89 522.11,434.61 522.45,391.15 522.80,434.65 523.14,425.09 523.48,429.26 523.82,429.65 524.16,428.07 524.51,432.36 524.85,427.15 525.19,432.55 525.53,427.23 525.88,431.42 526.22,428.79 526.56,427.67 526.90,430.35 527.24,429.62 527.59,428.16 527.93,427.15 528.27,430.55 528.61,430.15 528.95,429.81 529.30,429.63 529.64,432.99 529.98,436.61 530.32,426.15 530.67,437.65 531.01,436.21 531.35,433.54 531.69,419.02 532.03,429.51 532.38,415.95 532.72,432.55 533.06,431.29 533.40,428.89 533.74,415.73 534.09,352.55 534.43,422.45"/>
</svg>
</body></html>
